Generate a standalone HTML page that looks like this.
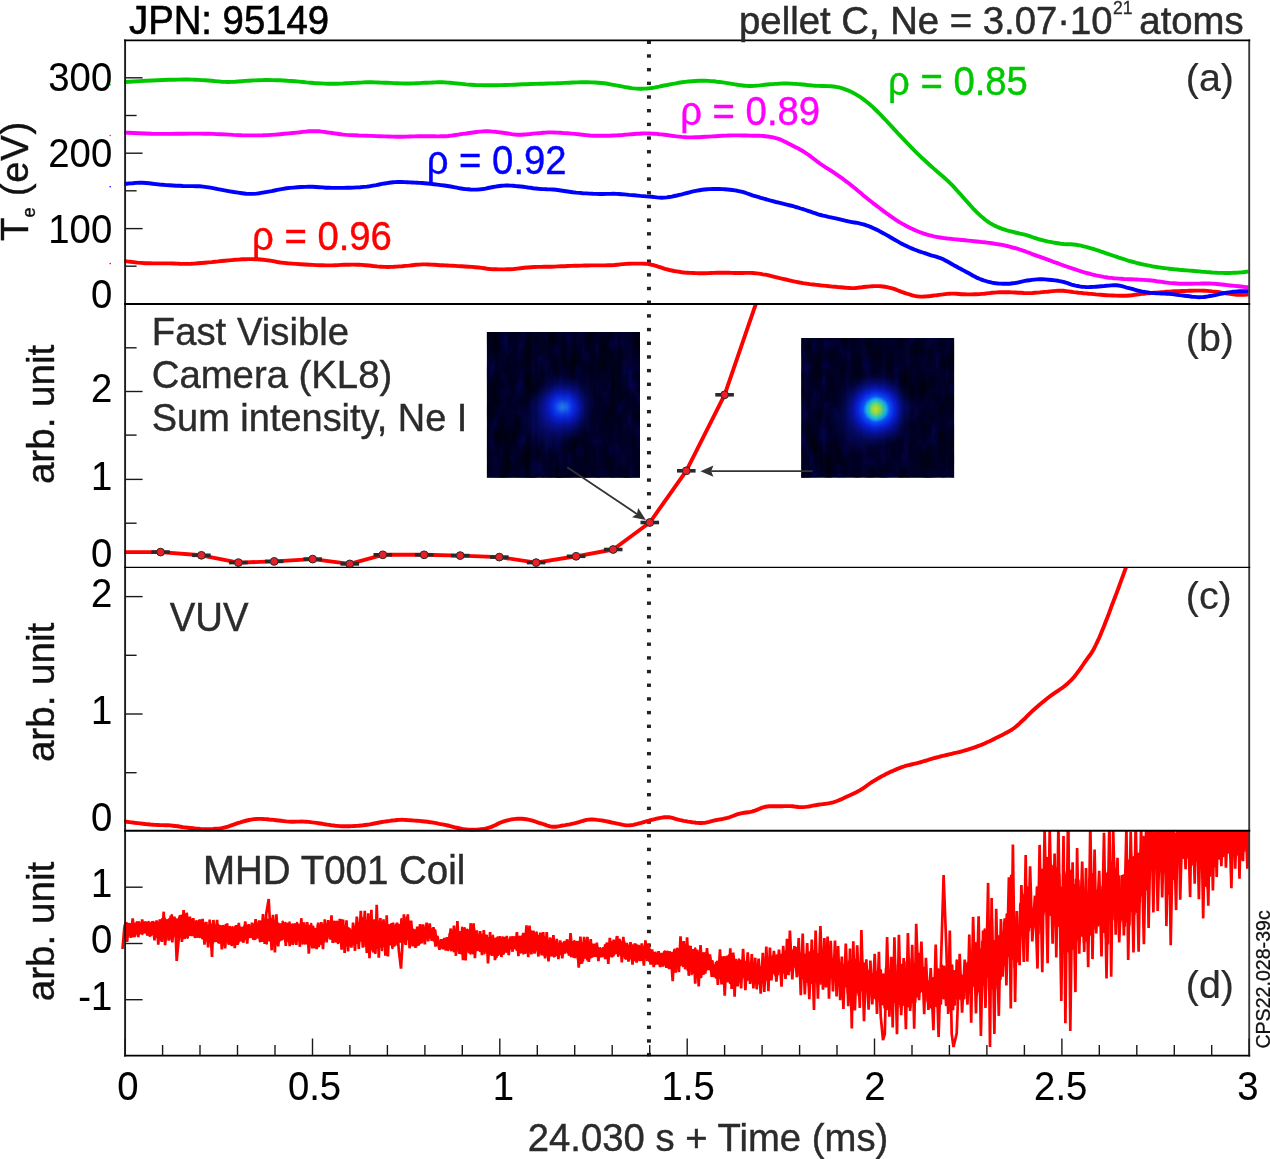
<!DOCTYPE html>
<html lang="en"><head><meta charset="utf-8"><title>JPN 95149 pellet C</title>
<style>html,body{margin:0;padding:0;background:#fff}svg{display:block}text{font-family:"Liberation Sans", sans-serif}</style>
</head><body>
<svg width="1270" height="1159" viewBox="0 0 1270 1159">
<defs>
<clipPath id="ca"><rect x="124.2" y="40.2" width="1127.2" height="264.3"/></clipPath>
<clipPath id="cb"><rect x="124.2" y="303.0" width="1126.2" height="265.4"/></clipPath>
<clipPath id="cc"><rect x="124.2" y="567.4" width="1126.2" height="264.4"/></clipPath>
<clipPath id="cd"><rect x="121" y="830.3" width="1128.7" height="224.9"/></clipPath>
<radialGradient id="g1" cx="562.8" cy="407.0" r="36" gradientUnits="userSpaceOnUse"><stop offset="0" stop-color="#2a8af6"/><stop offset="0.1" stop-color="#1c6cf4"/><stop offset="0.22" stop-color="#0e3cf0"/><stop offset="0.36" stop-color="#0a20d0"/><stop offset="0.55" stop-color="#08129a" stop-opacity="0.8"/><stop offset="0.78" stop-color="#050a60" stop-opacity="0.45"/><stop offset="1" stop-color="#03032e" stop-opacity="0"/></radialGradient>
<radialGradient id="g1b" cx="552" cy="420" r="36" gradientUnits="userSpaceOnUse"><stop offset="0" stop-color="#0a18b8" stop-opacity="0.85"/><stop offset="0.5" stop-color="#070e80" stop-opacity="0.5"/><stop offset="1" stop-color="#03032e" stop-opacity="0"/></radialGradient>
<radialGradient id="g2" cx="876.3" cy="409.3" r="40" gradientUnits="userSpaceOnUse"><stop offset="0" stop-color="#c4e628"/><stop offset="0.09" stop-color="#a2e240"/><stop offset="0.17" stop-color="#44dca0"/><stop offset="0.25" stop-color="#18b4f0"/><stop offset="0.33" stop-color="#0c54ff"/><stop offset="0.45" stop-color="#0a26e4"/><stop offset="0.6" stop-color="#0814a8" stop-opacity="0.8"/><stop offset="0.8" stop-color="#050a60" stop-opacity="0.45"/><stop offset="1" stop-color="#03032e" stop-opacity="0"/></radialGradient>
<radialGradient id="g2b" cx="866" cy="418" r="44" gradientUnits="userSpaceOnUse"><stop offset="0" stop-color="#0a1cc8" stop-opacity="0.85"/><stop offset="0.5" stop-color="#070e80" stop-opacity="0.5"/><stop offset="1" stop-color="#03032e" stop-opacity="0"/></radialGradient>
<filter id="nz" x="0" y="0" width="100%" height="100%" color-interpolation-filters="sRGB"><feTurbulence type="fractalNoise" baseFrequency="0.11 0.05" numOctaves="2" seed="4" result="t"/><feColorMatrix in="t" type="matrix" values="0 0 0 0 0.02  0 0 0 0 0.02  0 0 0 0 0.33  0 0 0 2.2 -1.0"/><feComposite in2="SourceGraphic" operator="in"/></filter>
<filter id="nzd" x="0" y="0" width="100%" height="100%" color-interpolation-filters="sRGB"><feTurbulence type="fractalNoise" baseFrequency="0.09 0.04" numOctaves="2" seed="11" result="t"/><feColorMatrix in="t" type="matrix" values="0 0 0 0 0  0 0 0 0 0  0 0 0 0 0.06  0 0 0 2.6 -1.0"/><feComposite in2="SourceGraphic" operator="in"/></filter>
</defs>
<rect width="1270" height="1159" fill="#fff"/>
<rect x="646.95" y="40.60" width="4" height="3.4" fill="#222"/>
<rect x="646.95" y="54.28" width="4" height="3.4" fill="#222"/>
<rect x="646.95" y="67.96" width="4" height="3.4" fill="#222"/>
<rect x="646.95" y="81.64" width="4" height="3.4" fill="#222"/>
<rect x="646.95" y="95.32" width="4" height="3.4" fill="#222"/>
<rect x="646.95" y="109.00" width="4" height="3.4" fill="#222"/>
<rect x="646.95" y="122.68" width="4" height="3.4" fill="#222"/>
<rect x="646.95" y="136.36" width="4" height="3.4" fill="#222"/>
<rect x="646.95" y="150.04" width="4" height="3.4" fill="#222"/>
<rect x="646.95" y="163.72" width="4" height="3.4" fill="#222"/>
<rect x="646.95" y="177.40" width="4" height="3.4" fill="#222"/>
<rect x="646.95" y="191.08" width="4" height="3.4" fill="#222"/>
<rect x="646.95" y="204.76" width="4" height="3.4" fill="#222"/>
<rect x="646.95" y="218.44" width="4" height="3.4" fill="#222"/>
<rect x="646.95" y="232.12" width="4" height="3.4" fill="#222"/>
<rect x="646.95" y="245.80" width="4" height="3.4" fill="#222"/>
<rect x="646.95" y="259.48" width="4" height="3.4" fill="#222"/>
<rect x="646.95" y="273.16" width="4" height="3.4" fill="#222"/>
<rect x="646.95" y="286.84" width="4" height="3.4" fill="#222"/>
<rect x="646.95" y="300.52" width="4" height="3.4" fill="#222"/>
<rect x="646.95" y="314.20" width="4" height="3.4" fill="#222"/>
<rect x="646.95" y="327.88" width="4" height="3.4" fill="#222"/>
<rect x="646.95" y="341.56" width="4" height="3.4" fill="#222"/>
<rect x="646.95" y="355.24" width="4" height="3.4" fill="#222"/>
<rect x="646.95" y="368.92" width="4" height="3.4" fill="#222"/>
<rect x="646.95" y="382.60" width="4" height="3.4" fill="#222"/>
<rect x="646.95" y="396.28" width="4" height="3.4" fill="#222"/>
<rect x="646.95" y="409.96" width="4" height="3.4" fill="#222"/>
<rect x="646.95" y="423.64" width="4" height="3.4" fill="#222"/>
<rect x="646.95" y="437.32" width="4" height="3.4" fill="#222"/>
<rect x="646.95" y="451.00" width="4" height="3.4" fill="#222"/>
<rect x="646.95" y="464.68" width="4" height="3.4" fill="#222"/>
<rect x="646.95" y="478.36" width="4" height="3.4" fill="#222"/>
<rect x="646.95" y="492.04" width="4" height="3.4" fill="#222"/>
<rect x="646.95" y="505.72" width="4" height="3.4" fill="#222"/>
<rect x="646.95" y="519.40" width="4" height="3.4" fill="#222"/>
<rect x="646.95" y="533.08" width="4" height="3.4" fill="#222"/>
<rect x="646.95" y="546.76" width="4" height="3.4" fill="#222"/>
<rect x="646.95" y="560.44" width="4" height="3.4" fill="#222"/>
<rect x="646.95" y="574.12" width="4" height="3.4" fill="#222"/>
<rect x="646.95" y="587.80" width="4" height="3.4" fill="#222"/>
<rect x="646.95" y="601.48" width="4" height="3.4" fill="#222"/>
<rect x="646.95" y="615.16" width="4" height="3.4" fill="#222"/>
<rect x="646.95" y="628.84" width="4" height="3.4" fill="#222"/>
<rect x="646.95" y="642.52" width="4" height="3.4" fill="#222"/>
<rect x="646.95" y="656.20" width="4" height="3.4" fill="#222"/>
<rect x="646.95" y="669.88" width="4" height="3.4" fill="#222"/>
<rect x="646.95" y="683.56" width="4" height="3.4" fill="#222"/>
<rect x="646.95" y="697.24" width="4" height="3.4" fill="#222"/>
<rect x="646.95" y="710.92" width="4" height="3.4" fill="#222"/>
<rect x="646.95" y="724.60" width="4" height="3.4" fill="#222"/>
<rect x="646.95" y="738.28" width="4" height="3.4" fill="#222"/>
<rect x="646.95" y="751.96" width="4" height="3.4" fill="#222"/>
<rect x="646.95" y="765.64" width="4" height="3.4" fill="#222"/>
<rect x="646.95" y="779.32" width="4" height="3.4" fill="#222"/>
<rect x="646.95" y="793.00" width="4" height="3.4" fill="#222"/>
<rect x="646.95" y="806.68" width="4" height="3.4" fill="#222"/>
<rect x="646.95" y="820.36" width="4" height="3.4" fill="#222"/>
<rect x="646.95" y="834.04" width="4" height="3.4" fill="#222"/>
<rect x="646.95" y="847.72" width="4" height="3.4" fill="#222"/>
<rect x="646.95" y="861.40" width="4" height="3.4" fill="#222"/>
<rect x="646.95" y="875.08" width="4" height="3.4" fill="#222"/>
<rect x="646.95" y="888.76" width="4" height="3.4" fill="#222"/>
<rect x="646.95" y="902.44" width="4" height="3.4" fill="#222"/>
<rect x="646.95" y="916.12" width="4" height="3.4" fill="#222"/>
<rect x="646.95" y="929.80" width="4" height="3.4" fill="#222"/>
<rect x="646.95" y="943.48" width="4" height="3.4" fill="#222"/>
<rect x="646.95" y="957.16" width="4" height="3.4" fill="#222"/>
<rect x="646.95" y="970.84" width="4" height="3.4" fill="#222"/>
<rect x="646.95" y="984.52" width="4" height="3.4" fill="#222"/>
<rect x="646.95" y="998.20" width="4" height="3.4" fill="#222"/>
<rect x="646.95" y="1011.88" width="4" height="3.4" fill="#222"/>
<rect x="646.95" y="1025.56" width="4" height="3.4" fill="#222"/>
<rect x="646.95" y="1039.24" width="4" height="3.4" fill="#222"/>
<rect x="646.95" y="1052.92" width="4" height="3.4" fill="#222"/>
<g clip-path="url(#ca)">
<polyline points="123.5,261.1 123.4,261.1 123.2,261.0 123.0,261.0 123.1,260.9 123.7,261.0 125.0,261.1 127.2,261.4 130.2,261.7 133.6,262.1 137.4,262.6 141.3,262.9 145.2,263.2 149.2,263.3 153.5,263.4 158.0,263.4 162.4,263.4 166.6,263.4 170.4,263.4 173.7,263.5 176.7,263.6 179.5,263.8 182.2,263.9 185.0,263.9 188.0,263.9 191.2,263.8 194.5,263.6 197.9,263.3 201.4,263.0 204.8,262.7 208.2,262.4 211.6,262.1 214.9,261.7 218.2,261.4 221.6,261.0 224.9,260.7 228.3,260.4 231.7,260.1 235.1,259.8 238.6,259.6 242.0,259.3 245.3,259.2 248.5,259.1 251.6,259.1 254.6,259.2 257.5,259.3 260.3,259.5 263.2,259.8 266.1,260.1 269.0,260.5 271.7,260.9 274.5,261.4 277.3,262.0 280.4,262.5 283.8,262.9 287.6,263.3 291.8,263.6 296.2,263.9 300.7,264.2 305.0,264.5 309.0,264.7 312.7,264.9 316.2,265.1 319.5,265.2 322.8,265.3 325.9,265.4 329.1,265.4 332.2,265.4 335.3,265.2 338.3,265.1 341.2,264.9 344.0,264.8 346.8,264.7 349.4,264.7 351.7,264.6 354.0,264.6 356.4,264.7 359.0,264.8 361.9,264.9 365.3,265.2 369.1,265.5 373.1,266.0 377.1,266.4 381.0,266.7 384.6,266.9 387.8,267.0 390.7,266.9 393.6,266.8 396.3,266.6 399.2,266.4 402.2,266.2 405.4,265.9 408.8,265.6 412.3,265.2 415.8,264.8 419.2,264.6 422.4,264.4 425.5,264.4 428.5,264.5 431.5,264.6 434.4,264.8 437.2,265.0 440.0,265.2 442.6,265.3 445.1,265.4 447.4,265.5 449.9,265.6 452.4,265.7 455.2,265.9 458.3,266.1 461.7,266.3 465.1,266.5 468.7,266.7 472.1,266.9 475.4,267.2 478.5,267.5 481.5,267.9 484.4,268.3 487.2,268.7 490.1,269.0 493.0,269.2 495.9,269.3 498.8,269.4 501.6,269.4 504.5,269.4 507.5,269.3 510.6,269.2 513.8,269.0 517.1,268.6 520.5,268.2 524.0,267.8 527.4,267.5 530.8,267.2 534.2,267.0 537.5,266.9 540.9,266.9 544.2,266.8 547.5,266.8 550.9,266.7 554.3,266.6 557.6,266.4 561.0,266.3 564.4,266.2 567.7,266.0 571.1,265.9 574.5,265.8 577.8,265.7 581.2,265.6 584.6,265.5 587.9,265.5 591.3,265.4 594.7,265.4 598.1,265.4 601.5,265.4 604.9,265.4 608.2,265.3 611.4,265.2 614.5,265.0 617.4,264.7 620.4,264.4 623.2,264.1 626.1,263.9 629.0,263.7 632.0,263.6 635.2,263.6 638.3,263.6 641.4,263.6 644.2,263.7 646.7,263.9 648.8,264.1 650.5,264.5 652.1,264.8 653.5,265.2 655.1,265.7 656.8,266.2 658.7,266.8 660.7,267.4 662.8,268.1 664.9,268.8 667.1,269.4 669.4,270.0 671.7,270.5 674.2,271.0 676.6,271.4 679.2,271.8 681.8,272.2 684.5,272.5 687.3,272.7 690.2,272.9 693.1,273.0 696.1,273.1 699.1,273.2 702.1,273.2 705.0,273.2 708.0,273.1 710.9,273.0 713.8,272.9 716.8,272.8 719.7,272.7 722.7,272.7 725.7,272.8 728.7,272.8 731.7,272.9 734.6,273.0 737.4,273.0 740.1,273.0 742.7,273.0 745.3,272.9 747.8,272.9 750.2,272.9 752.6,273.0 754.8,273.2 756.8,273.4 758.8,273.6 760.7,273.9 762.8,274.3 765.2,274.7 767.8,275.2 770.6,275.9 773.5,276.6 776.6,277.3 779.7,278.1 782.8,278.8 786.0,279.5 789.3,280.3 792.7,281.1 796.2,281.8 799.6,282.5 803.0,283.1 806.4,283.6 809.8,284.1 813.2,284.5 816.6,284.9 819.9,285.3 823.1,285.6 826.2,285.9 829.4,286.3 832.4,286.6 835.4,286.8 838.2,287.1 840.8,287.3 843.2,287.5 845.4,287.7 847.4,287.9 849.4,288.0 851.4,288.1 853.4,288.1 855.5,288.0 857.6,287.8 859.7,287.5 861.8,287.3 863.9,287.0 866.0,286.8 868.1,286.6 870.2,286.4 872.3,286.2 874.4,286.1 876.5,286.1 878.6,286.1 880.7,286.2 882.8,286.5 884.9,286.8 887.0,287.1 889.1,287.6 891.2,288.1 893.3,288.7 895.4,289.4 897.5,290.3 899.6,291.1 901.7,291.9 903.8,292.6 905.9,293.3 908.1,294.0 910.3,294.7 912.4,295.3 914.5,295.8 916.4,296.2 918.2,296.4 919.8,296.6 921.4,296.6 923.0,296.6 924.6,296.5 926.4,296.4 928.3,296.2 930.4,296.0 932.5,295.7 934.7,295.4 936.9,295.2 939.0,294.9 941.1,294.6 943.1,294.4 945.1,294.1 947.2,293.9 949.3,293.7 951.6,293.6 954.0,293.6 956.5,293.8 959.0,294.0 961.6,294.2 964.2,294.3 966.8,294.4 969.3,294.4 971.8,294.4 974.4,294.3 976.9,294.2 979.4,294.1 981.9,293.9 984.4,293.7 986.9,293.4 989.5,293.1 992.0,292.8 994.5,292.6 997.0,292.4 999.5,292.3 1001.9,292.3 1004.4,292.3 1006.9,292.3 1009.4,292.3 1012.1,292.4 1014.9,292.5 1017.9,292.7 1020.9,292.8 1023.9,293.0 1026.9,293.1 1029.7,293.1 1032.4,293.0 1034.9,292.8 1037.4,292.6 1039.9,292.4 1042.3,292.1 1044.9,291.9 1047.5,291.7 1050.2,291.4 1052.9,291.1 1055.6,290.9 1058.3,290.7 1060.9,290.7 1063.5,290.8 1066.0,291.1 1068.5,291.4 1071.0,291.7 1073.5,292.1 1076.0,292.4 1078.5,292.7 1081.0,292.9 1083.5,293.2 1086.1,293.4 1088.6,293.7 1091.1,293.9 1093.6,294.1 1095.9,294.4 1098.3,294.6 1100.8,294.8 1103.4,295.0 1106.2,295.2 1109.3,295.4 1112.7,295.5 1116.3,295.6 1119.9,295.7 1123.3,295.8 1126.4,295.7 1129.2,295.5 1131.8,295.3 1134.3,294.9 1136.7,294.5 1139.0,294.2 1141.5,293.9 1144.0,293.7 1146.5,293.4 1149.0,293.2 1151.6,293.0 1154.1,292.8 1156.6,292.6 1159.1,292.4 1161.6,292.2 1164.1,292.0 1166.7,291.7 1169.2,291.6 1171.7,291.4 1174.2,291.3 1176.7,291.2 1179.2,291.1 1181.8,291.0 1184.3,291.0 1186.8,290.9 1189.3,290.8 1191.8,290.7 1194.3,290.6 1196.9,290.6 1199.4,290.6 1201.9,290.6 1204.5,290.7 1207.1,290.9 1209.7,291.1 1212.2,291.4 1214.7,291.6 1217.1,291.9 1219.4,292.2 1221.6,292.6 1223.7,292.9 1225.8,293.3 1227.8,293.6 1229.7,293.9 1231.5,294.1 1233.3,294.4 1234.9,294.6 1236.5,294.7 1238.1,294.8 1239.7,294.9 1241.4,294.9 1243.1,294.8 1244.8,294.7 1246.3,294.6 1247.6,294.5 1248.6,294.4" fill="none" stroke="#ff0000" stroke-width="3.9" stroke-linejoin="round" stroke-linecap="butt" />
<polyline points="123.5,183.8 123.5,183.8 123.3,183.8 123.1,183.9 123.2,183.9 123.8,183.9 125.0,183.8 127.0,183.7 129.6,183.4 132.7,183.2 136.0,182.9 139.4,182.8 142.7,182.8 145.9,183.0 149.2,183.3 152.6,183.7 156.0,184.1 159.4,184.5 162.8,184.8 166.2,185.1 169.5,185.3 172.9,185.5 176.3,185.7 179.6,185.8 183.0,186.0 186.3,186.1 189.6,186.1 192.9,186.1 196.2,186.2 199.6,186.3 203.1,186.6 206.7,187.1 210.4,187.7 214.2,188.4 218.0,189.2 221.9,189.9 225.8,190.6 229.8,191.3 233.9,192.0 238.0,192.6 242.1,193.2 246.1,193.7 249.8,193.9 253.3,193.9 256.5,193.6 259.6,193.2 262.7,192.6 265.7,192.1 268.7,191.6 271.6,191.1 274.5,190.5 277.3,189.9 280.1,189.3 283.1,188.8 286.3,188.3 289.8,187.9 293.6,187.6 297.5,187.3 301.4,187.0 305.3,186.9 309.0,186.8 312.5,186.8 316.0,187.0 319.4,187.2 322.7,187.4 325.9,187.7 329.1,187.8 332.2,187.9 335.1,187.9 338.0,187.9 340.8,187.9 343.7,187.9 346.8,187.8 350.0,187.7 353.4,187.6 356.9,187.4 360.3,187.2 363.7,186.9 366.9,186.6 370.0,186.2 373.2,185.6 376.2,185.1 379.2,184.5 382.0,183.9 384.6,183.5 387.0,183.1 389.1,182.8 391.1,182.5 393.0,182.3 395.0,182.1 397.2,182.0 399.6,182.0 402.0,182.0 404.6,182.1 407.2,182.2 409.8,182.4 412.3,182.5 414.8,182.6 417.1,182.7 419.5,182.9 422.0,183.0 424.6,183.2 427.4,183.5 430.5,183.8 433.8,184.2 437.3,184.6 440.9,185.1 444.3,185.5 447.6,186.0 450.7,186.5 453.8,187.1 456.8,187.7 459.7,188.3 462.5,188.7 465.3,189.1 468.0,189.3 470.5,189.5 473.0,189.6 475.5,189.6 477.9,189.5 480.4,189.3 482.9,189.0 485.5,188.6 488.1,188.0 490.7,187.5 493.1,187.0 495.5,186.6 497.7,186.3 499.8,186.0 501.8,185.8 503.8,185.6 505.9,185.5 508.1,185.5 510.5,185.6 512.9,185.7 515.5,186.0 518.1,186.2 520.7,186.5 523.2,186.8 525.7,187.1 528.1,187.5 530.6,187.8 533.1,188.2 535.6,188.5 538.3,188.8 541.1,189.0 543.9,189.1 546.8,189.3 549.8,189.4 552.9,189.5 556.0,189.8 559.2,190.2 562.5,190.7 565.9,191.2 569.3,191.7 572.7,192.2 576.1,192.6 579.5,192.9 582.8,193.2 586.2,193.4 589.6,193.6 592.9,193.8 596.3,193.9 599.7,194.0 603.2,194.0 606.7,193.9 610.1,193.9 613.3,193.8 616.4,193.9 619.2,194.0 621.7,194.2 624.2,194.4 626.5,194.6 629.0,194.9 631.6,195.1 634.4,195.3 637.4,195.6 640.4,195.9 643.4,196.1 646.4,196.4 649.2,196.6 651.9,196.8 654.4,197.1 656.9,197.4 659.4,197.6 661.8,197.7 664.3,197.6 666.8,197.4 669.3,197.0 671.8,196.6 674.4,196.0 676.9,195.5 679.4,194.9 681.9,194.3 684.4,193.6 686.9,193.0 689.5,192.3 692.0,191.6 694.5,191.1 697.0,190.6 699.6,190.2 702.1,189.8 704.6,189.5 707.2,189.3 709.7,189.1 712.2,189.0 714.7,188.9 717.3,189.0 719.8,189.0 722.3,189.1 724.8,189.3 727.3,189.5 729.8,189.7 732.3,190.0 734.9,190.4 737.4,190.8 739.9,191.3 742.4,191.9 744.9,192.7 747.3,193.5 749.8,194.4 752.4,195.3 755.1,196.1 757.9,196.9 760.8,197.8 763.8,198.7 766.8,199.5 769.8,200.4 772.8,201.2 775.8,202.0 778.8,202.7 781.8,203.4 784.7,204.1 787.6,204.8 790.4,205.5 793.1,206.2 795.6,207.0 798.1,207.7 800.6,208.5 803.0,209.2 805.5,210.0 808.0,210.8 810.5,211.7 813.0,212.6 815.6,213.4 818.1,214.3 820.6,215.0 823.1,215.7 825.7,216.2 828.3,216.8 830.9,217.3 833.3,217.8 835.7,218.3 837.9,218.8 840.0,219.3 842.0,219.8 844.0,220.3 846.1,220.8 848.3,221.3 850.7,221.8 853.3,222.3 855.9,222.7 858.5,223.2 861.1,223.8 863.5,224.4 865.7,225.1 867.8,225.8 869.8,226.6 871.8,227.4 873.9,228.4 876.1,229.4 878.5,230.6 881.0,232.0 883.7,233.4 886.3,234.9 888.8,236.3 891.2,237.7 893.4,239.0 895.6,240.2 897.7,241.4 899.7,242.6 901.7,243.7 903.8,244.8 905.9,245.8 908.0,246.8 910.1,247.7 912.2,248.6 914.3,249.5 916.4,250.3 918.5,251.1 920.6,251.8 922.7,252.5 924.8,253.2 926.9,253.9 929.0,254.6 931.1,255.3 933.2,255.9 935.3,256.4 937.4,257.1 939.5,257.8 941.6,258.6 943.7,259.6 945.8,260.7 947.9,261.8 950.0,263.0 952.1,264.2 954.2,265.4 956.3,266.5 958.4,267.7 960.5,268.8 962.6,269.9 964.7,271.1 966.8,272.2 968.9,273.3 971.0,274.5 973.1,275.7 975.2,276.8 977.3,277.9 979.4,278.8 981.5,279.6 983.6,280.4 985.7,281.0 987.8,281.6 989.9,282.1 992.0,282.6 994.1,283.0 996.3,283.3 998.5,283.5 1000.6,283.6 1002.7,283.7 1004.6,283.8 1006.4,283.8 1008.0,283.8 1009.6,283.7 1011.2,283.5 1012.8,283.3 1014.6,283.1 1016.5,282.8 1018.5,282.3 1020.6,281.8 1022.7,281.3 1024.9,280.9 1027.2,280.5 1029.5,280.2 1031.9,279.9 1034.4,279.6 1036.9,279.4 1039.6,279.3 1042.3,279.3 1045.3,279.4 1048.5,279.7 1051.8,280.0 1055.0,280.4 1058.1,280.8 1060.9,281.3 1063.3,281.9 1065.5,282.5 1067.6,283.2 1069.5,283.9 1071.5,284.6 1073.5,285.1 1075.6,285.6 1077.6,286.0 1079.6,286.4 1081.7,286.7 1083.9,286.9 1086.1,287.1 1088.5,287.1 1090.9,287.0 1093.5,286.9 1096.1,286.7 1098.7,286.5 1101.2,286.3 1103.7,286.1 1106.3,285.8 1108.9,285.6 1111.5,285.4 1113.9,285.2 1116.3,285.3 1118.5,285.5 1120.7,285.9 1122.8,286.4 1124.8,287.0 1126.8,287.6 1128.9,288.1 1131.0,288.6 1133.1,289.2 1135.2,289.8 1137.3,290.4 1139.4,290.9 1141.5,291.4 1143.6,291.8 1145.6,292.1 1147.6,292.4 1149.7,292.7 1151.9,292.9 1154.1,293.1 1156.5,293.3 1158.9,293.4 1161.5,293.5 1164.1,293.6 1166.7,293.7 1169.2,293.9 1171.7,294.1 1174.2,294.4 1176.8,294.8 1179.3,295.1 1181.8,295.4 1184.3,295.7 1186.8,296.0 1189.4,296.3 1192.0,296.7 1194.6,296.9 1197.0,297.1 1199.4,297.2 1201.6,297.1 1203.8,297.0 1205.9,296.7 1207.9,296.4 1209.9,296.0 1212.0,295.7 1214.1,295.3 1216.2,294.9 1218.3,294.4 1220.4,293.9 1222.5,293.5 1224.6,293.1 1226.7,292.7 1228.8,292.4 1231.0,292.1 1233.1,291.8 1235.2,291.6 1237.2,291.4 1239.3,291.3 1241.5,291.2 1243.7,291.1 1245.7,291.1 1247.4,291.1 1248.6,291.1" fill="none" stroke="#0000ff" stroke-width="3.9" stroke-linejoin="round" stroke-linecap="butt" />
<polyline points="123.5,132.6 123.3,132.6 122.7,132.6 122.2,132.5 122.1,132.5 122.9,132.5 125.0,132.6 128.6,132.8 133.4,133.0 139.1,133.3 145.3,133.5 151.7,133.8 157.8,133.9 164.0,133.9 170.5,133.9 177.2,133.8 183.7,133.7 190.0,133.6 195.6,133.6 200.5,133.6 204.9,133.7 209.0,133.8 212.9,133.9 216.7,134.1 220.8,134.2 225.0,134.4 229.2,134.6 233.4,134.9 237.6,135.1 241.8,135.3 246.0,135.4 250.2,135.4 254.4,135.4 258.6,135.4 262.8,135.3 267.0,135.1 271.2,134.9 275.5,134.6 279.9,134.2 284.3,133.8 288.6,133.4 292.6,133.0 296.4,132.6 299.8,132.3 302.9,131.9 305.8,131.6 308.6,131.3 311.3,131.2 314.0,131.1 316.6,131.2 319.1,131.3 321.5,131.6 324.0,131.9 326.5,132.3 329.1,132.6 331.8,133.0 334.5,133.4 337.3,133.8 340.2,134.2 343.4,134.6 346.8,134.9 350.6,135.1 354.6,135.3 358.9,135.5 363.3,135.6 367.7,135.8 372.0,135.9 376.2,136.1 380.4,136.2 384.6,136.4 388.8,136.5 393.0,136.6 397.2,136.7 401.4,136.7 405.7,136.6 410.0,136.5 414.2,136.4 418.3,136.3 422.4,136.2 426.4,136.2 430.3,136.2 434.2,136.3 438.0,136.4 441.6,136.3 445.1,136.2 448.3,136.0 451.3,135.6 454.1,135.2 456.9,134.8 459.8,134.3 462.8,133.9 466.1,133.5 469.5,133.0 473.0,132.5 476.5,132.0 479.8,131.6 482.9,131.4 485.6,131.3 488.1,131.3 490.4,131.4 492.8,131.6 495.2,131.8 498.0,132.1 501.1,132.5 504.5,133.0 507.9,133.5 511.5,134.1 514.9,134.5 518.2,134.7 521.3,134.7 524.4,134.5 527.3,134.3 530.2,134.0 533.0,133.6 535.8,133.4 538.4,133.2 540.8,133.0 543.2,132.7 545.6,132.6 548.1,132.4 550.9,132.4 553.9,132.5 557.2,132.6 560.5,132.8 564.0,133.1 567.5,133.3 571.1,133.6 574.7,133.9 578.5,134.3 582.3,134.7 586.1,135.1 590.0,135.5 593.8,135.7 597.7,135.8 601.6,135.8 605.6,135.8 609.4,135.7 613.1,135.5 616.4,135.4 619.4,135.2 622.0,135.1 624.5,134.8 626.8,134.6 629.2,134.4 631.6,134.2 634.1,134.0 636.6,133.8 639.2,133.7 641.7,133.5 644.2,133.4 646.7,133.4 649.2,133.5 651.7,133.6 654.2,133.7 656.8,133.9 659.3,134.2 661.8,134.4 664.3,134.7 666.8,135.0 669.3,135.4 671.9,135.8 674.4,136.1 676.9,136.4 679.4,136.6 681.7,136.9 684.1,137.1 686.6,137.3 689.2,137.4 692.0,137.4 695.1,137.3 698.4,137.2 701.8,137.0 705.3,136.8 708.8,136.6 712.2,136.4 715.6,136.2 718.9,136.0 722.2,135.8 725.6,135.6 728.9,135.5 732.3,135.4 735.8,135.4 739.3,135.4 742.9,135.5 746.4,135.5 749.7,135.6 752.6,135.7 755.1,135.7 757.4,135.8 759.4,135.8 761.3,135.9 763.2,136.0 765.2,136.2 767.3,136.5 769.4,136.8 771.5,137.1 773.6,137.5 775.7,138.1 777.8,138.7 779.9,139.4 781.9,140.3 783.9,141.2 786.0,142.3 788.2,143.4 790.4,144.5 792.8,145.7 795.2,147.0 797.8,148.3 800.4,149.7 803.0,151.2 805.5,152.8 808.0,154.5 810.5,156.4 813.0,158.3 815.6,160.3 818.1,162.2 820.6,164.0 823.1,165.7 825.6,167.3 828.1,168.9 830.7,170.5 833.2,172.1 835.7,173.8 838.2,175.6 840.8,177.4 843.3,179.2 845.8,181.1 848.4,183.0 850.9,185.0 853.4,187.0 855.9,189.1 858.5,191.2 861.0,193.3 863.5,195.4 866.0,197.4 868.5,199.4 871.0,201.4 873.5,203.4 876.1,205.4 878.6,207.3 881.1,209.2 883.6,211.1 886.1,213.0 888.7,214.9 891.2,216.7 893.7,218.4 896.2,220.1 898.7,221.7 901.2,223.1 903.8,224.6 906.3,225.9 908.8,227.2 911.3,228.4 913.8,229.6 916.3,230.7 918.8,231.7 921.4,232.7 923.9,233.6 926.4,234.4 928.9,235.1 931.4,235.7 933.8,236.3 936.4,236.8 938.9,237.3 941.6,237.7 944.4,238.1 947.3,238.5 950.3,238.8 953.2,239.1 956.2,239.4 959.2,239.7 962.2,240.0 965.2,240.3 968.1,240.6 971.1,240.9 974.0,241.2 976.8,241.5 979.5,241.8 982.0,242.1 984.6,242.3 987.0,242.6 989.5,242.9 992.0,243.3 994.5,243.7 997.0,244.1 999.6,244.5 1002.1,244.9 1004.6,245.4 1007.1,246.0 1009.6,246.6 1012.1,247.3 1014.7,248.0 1017.2,248.7 1019.7,249.5 1022.2,250.3 1024.6,251.1 1026.9,252.0 1029.2,252.8 1031.6,253.8 1034.3,254.8 1037.3,255.9 1040.8,257.2 1044.9,258.7 1049.1,260.2 1053.3,261.8 1057.4,263.2 1060.9,264.5 1063.9,265.6 1066.6,266.5 1069.0,267.4 1071.3,268.1 1073.6,268.9 1076.0,269.7 1078.5,270.5 1081.0,271.3 1083.5,272.1 1086.1,272.8 1088.6,273.5 1091.1,274.2 1093.6,274.8 1096.1,275.4 1098.6,275.9 1101.2,276.4 1103.7,276.9 1106.2,277.3 1108.7,277.7 1111.2,277.9 1113.8,278.2 1116.3,278.4 1118.8,278.6 1121.3,278.8 1123.8,279.0 1126.3,279.1 1128.8,279.2 1131.4,279.3 1133.9,279.4 1136.4,279.5 1138.9,279.6 1141.5,279.8 1144.0,279.9 1146.5,280.1 1149.1,280.3 1151.6,280.5 1154.1,280.8 1156.6,281.2 1159.2,281.5 1161.7,281.9 1164.2,282.3 1166.7,282.6 1169.2,282.9 1171.7,283.1 1174.2,283.3 1176.8,283.5 1179.3,283.7 1181.8,283.8 1184.3,283.8 1186.8,283.8 1189.3,283.8 1191.9,283.7 1194.4,283.6 1196.9,283.6 1199.4,283.6 1201.9,283.5 1204.5,283.5 1207.0,283.5 1209.5,283.5 1212.0,283.6 1214.4,283.8 1216.8,284.0 1219.2,284.2 1221.6,284.5 1224.2,284.8 1227.1,285.1 1230.6,285.5 1234.6,285.9 1238.8,286.3 1242.8,286.7 1246.2,287.1 1248.6,287.3" fill="none" stroke="#ff00ff" stroke-width="3.9" stroke-linejoin="round" stroke-linecap="butt" />
<polyline points="123.5,82.0 123.3,82.0 122.7,82.1 122.2,82.1 122.1,82.1 122.9,82.1 125.0,82.0 128.7,81.8 133.7,81.5 139.6,81.1 145.9,80.8 152.1,80.5 157.8,80.2 163.1,80.0 168.4,79.8 173.7,79.7 178.8,79.6 183.6,79.5 188.0,79.5 191.9,79.6 195.5,79.7 198.7,79.9 201.8,80.1 205.0,80.3 208.2,80.5 211.6,80.8 214.9,81.1 218.2,81.4 221.6,81.7 224.9,81.9 228.3,82.0 231.7,81.9 235.0,81.8 238.4,81.5 241.8,81.2 245.1,80.9 248.5,80.7 251.8,80.5 255.1,80.4 258.5,80.2 261.8,80.1 265.2,80.0 268.7,80.0 272.3,80.1 276.1,80.2 279.8,80.3 283.7,80.5 287.5,80.8 291.3,81.0 295.1,81.3 299.0,81.6 302.8,82.0 306.6,82.4 310.4,82.7 314.0,83.0 317.5,83.2 321.0,83.4 324.4,83.6 327.8,83.7 331.0,83.8 334.2,83.8 337.3,83.8 340.3,83.6 343.2,83.5 346.0,83.3 348.9,83.1 351.8,83.0 354.7,82.9 357.7,82.7 360.6,82.6 363.5,82.4 366.5,82.3 369.4,82.3 372.3,82.3 375.2,82.4 378.1,82.5 381.0,82.6 384.0,82.7 387.1,82.8 390.3,82.9 393.7,83.1 397.1,83.2 400.6,83.4 404.0,83.5 407.2,83.5 410.3,83.5 413.4,83.4 416.4,83.2 419.3,83.1 422.1,82.9 424.9,82.8 427.6,82.7 430.3,82.6 432.9,82.5 435.4,82.4 437.8,82.3 440.0,82.3 441.8,82.3 443.2,82.3 444.5,82.4 445.9,82.5 447.7,82.6 450.2,82.8 453.5,83.1 457.3,83.5 461.5,83.9 466.1,84.4 470.7,84.7 475.4,85.0 480.2,85.1 485.3,85.2 490.5,85.2 495.7,85.2 500.8,85.1 505.6,85.0 510.1,84.9 514.4,84.7 518.5,84.5 522.6,84.3 526.7,84.2 530.8,84.0 535.0,83.9 539.2,83.8 543.4,83.7 547.6,83.5 551.8,83.4 556.0,83.3 560.3,83.1 564.6,82.9 568.9,82.7 573.2,82.5 577.3,82.4 581.2,82.3 584.9,82.3 588.4,82.3 591.7,82.4 595.0,82.5 598.1,82.7 601.3,83.0 604.4,83.3 607.5,83.8 610.5,84.3 613.4,84.8 616.2,85.3 619.0,85.8 621.7,86.3 624.2,86.8 626.7,87.3 629.2,87.7 631.6,88.1 634.1,88.4 636.6,88.6 639.1,88.7 641.7,88.7 644.2,88.6 646.7,88.5 649.2,88.3 651.7,88.0 654.1,87.6 656.6,87.1 659.1,86.6 661.6,86.0 664.3,85.5 667.1,85.0 669.9,84.4 672.8,83.8 675.8,83.3 678.9,82.7 682.0,82.3 685.2,81.9 688.6,81.5 692.1,81.2 695.5,81.0 698.9,80.8 702.1,80.7 705.2,80.7 708.1,80.9 711.1,81.1 713.9,81.3 716.8,81.7 719.7,82.0 722.7,82.4 725.9,82.9 729.1,83.4 732.1,83.9 734.9,84.4 737.4,84.8 739.5,85.1 741.3,85.3 742.8,85.5 744.2,85.7 745.6,85.8 747.0,85.9 748.4,86.0 749.6,86.0 750.7,86.0 751.9,86.0 753.4,85.9 755.1,85.8 757.2,85.6 759.6,85.4 762.2,85.1 764.9,84.8 767.6,84.5 770.2,84.3 772.7,84.1 775.3,83.9 777.8,83.8 780.3,83.6 782.9,83.5 785.4,83.5 787.9,83.5 790.4,83.6 793.0,83.8 795.5,83.9 798.0,84.1 800.5,84.3 803.0,84.5 805.4,84.8 807.9,85.1 810.4,85.3 812.9,85.6 815.6,85.8 818.4,85.9 821.5,86.0 824.6,86.0 827.6,86.1 830.5,86.3 833.2,86.5 835.6,86.8 837.8,87.2 839.8,87.7 841.8,88.2 843.8,88.9 845.8,89.6 847.9,90.4 850.0,91.3 852.1,92.3 854.2,93.4 856.3,94.6 858.4,95.9 860.5,97.2 862.5,98.6 864.5,100.1 866.6,101.7 868.8,103.5 871.0,105.4 873.4,107.6 875.8,110.0 878.4,112.5 881.0,115.2 883.5,117.8 886.1,120.5 888.6,123.2 891.1,125.9 893.6,128.6 896.2,131.4 898.7,134.2 901.3,136.9 903.9,139.6 906.5,142.4 909.2,145.2 911.8,147.9 914.5,150.6 917.2,153.3 919.9,155.9 922.6,158.5 925.4,161.0 928.1,163.5 930.8,166.0 933.5,168.4 936.2,170.8 938.8,173.0 941.5,175.3 944.1,177.5 946.7,179.9 949.3,182.3 951.9,184.9 954.5,187.7 957.0,190.5 959.6,193.3 962.0,196.1 964.4,198.7 966.6,201.2 968.8,203.6 970.9,206.0 972.9,208.3 975.0,210.4 977.0,212.5 979.1,214.4 981.1,216.3 983.2,218.0 985.2,219.7 987.2,221.2 989.2,222.6 991.2,223.8 993.2,224.9 995.1,225.9 997.1,226.8 999.0,227.6 1001.0,228.4 1003.0,229.1 1004.9,229.7 1006.9,230.3 1008.8,230.8 1010.9,231.3 1013.0,231.9 1015.2,232.5 1017.5,233.0 1019.9,233.6 1022.3,234.1 1024.8,234.7 1027.2,235.4 1029.6,236.1 1032.0,237.0 1034.5,237.8 1037.0,238.6 1039.6,239.5 1042.3,240.2 1045.2,240.9 1048.4,241.6 1051.6,242.2 1054.8,242.8 1058.0,243.3 1060.9,243.7 1063.6,244.0 1066.2,244.2 1068.7,244.2 1071.1,244.3 1073.5,244.5 1076.0,244.8 1078.5,245.2 1081.0,245.7 1083.5,246.3 1086.1,246.9 1088.6,247.6 1091.1,248.3 1093.6,249.0 1096.1,249.9 1098.6,250.7 1101.2,251.6 1103.7,252.4 1106.2,253.3 1108.7,254.2 1111.2,255.0 1113.8,255.9 1116.3,256.7 1118.8,257.6 1121.3,258.4 1123.8,259.2 1126.3,260.0 1128.8,260.8 1131.4,261.5 1133.9,262.2 1136.4,262.9 1138.9,263.5 1141.5,264.1 1144.0,264.7 1146.5,265.2 1149.1,265.7 1151.6,266.2 1154.1,266.6 1156.6,267.0 1159.2,267.4 1161.7,267.8 1164.2,268.1 1166.7,268.4 1169.2,268.7 1171.7,269.0 1174.2,269.3 1176.8,269.5 1179.3,269.8 1181.8,270.0 1184.3,270.2 1186.8,270.4 1189.3,270.6 1191.9,270.8 1194.4,271.0 1196.9,271.2 1199.4,271.4 1201.9,271.7 1204.5,271.9 1207.0,272.1 1209.5,272.3 1212.0,272.5 1214.5,272.6 1217.1,272.8 1219.7,272.9 1222.3,272.9 1224.7,273.0 1227.1,273.0 1229.4,273.0 1231.6,272.9 1233.8,272.8 1235.9,272.7 1237.8,272.6 1239.7,272.5 1241.5,272.4 1243.3,272.2 1244.9,272.0 1246.4,271.8 1247.7,271.6 1248.6,271.5" fill="none" stroke="#00c800" stroke-width="3.9" stroke-linejoin="round" stroke-linecap="butt" />
</g>
<circle cx="110.2" cy="84.7" r="0.8" fill="#00c800"/>
<circle cx="110.2" cy="135.5" r="0.8" fill="#ff00ff"/>
<circle cx="110.2" cy="186.7" r="0.8" fill="#0000ff"/>
<circle cx="110.2" cy="263.6" r="0.8" fill="#ff0000"/>
<rect x="486.9" y="332" width="153.1" height="145.8" fill="#020227"/>
<rect x="486.9" y="332" width="153.1" height="145.8" fill="#fff" filter="url(#nz)"/><rect x="486.9" y="332" width="153.1" height="145.8" fill="#fff" filter="url(#nzd)"/>
<g clip-path="none"><rect x="486.9" y="332" width="153.1" height="145.8" fill="url(#g1b)"/><rect x="486.9" y="332" width="153.1" height="145.8" fill="url(#g1)"/></g>
<rect x="801.2" y="338" width="152.9" height="139.7" fill="#020227"/>
<rect x="801.2" y="338" width="152.9" height="139.7" fill="#fff" filter="url(#nz)"/><rect x="801.2" y="338" width="152.9" height="139.7" fill="#fff" filter="url(#nzd)"/>
<rect x="801.2" y="338" width="152.9" height="139.7" fill="url(#g2b)"/><rect x="801.2" y="338" width="152.9" height="139.7" fill="url(#g2)"/>
<rect x="486.9" y="332.0" width="3.6" height="145.8" fill="#000010" opacity="0.02"/>
<rect x="490.5" y="332.0" width="2.4" height="145.8" fill="#0a0a70" opacity="0.05"/>
<rect x="492.9" y="332.0" width="4.9" height="145.8" fill="#000010" opacity="0.09"/>
<rect x="497.8" y="332.0" width="2.2" height="145.8" fill="#000010" opacity="0.04"/>
<rect x="500.0" y="332.0" width="3.2" height="145.8" fill="#000010" opacity="0.06"/>
<rect x="503.2" y="332.0" width="6.1" height="145.8" fill="#000010" opacity="0.01"/>
<rect x="509.3" y="332.0" width="5.2" height="145.8" fill="#000010" opacity="0.06"/>
<rect x="514.5" y="332.0" width="4.9" height="145.8" fill="#000010" opacity="0.04"/>
<rect x="519.4" y="332.0" width="2.2" height="145.8" fill="#0a0a70" opacity="0.09"/>
<rect x="521.6" y="332.0" width="4.1" height="145.8" fill="#0a0a70" opacity="0.05"/>
<rect x="525.7" y="332.0" width="4.8" height="145.8" fill="#000010" opacity="0.07"/>
<rect x="530.5" y="332.0" width="4.9" height="145.8" fill="#0a0a70" opacity="0.06"/>
<rect x="535.4" y="332.0" width="2.5" height="145.8" fill="#000010" opacity="0.07"/>
<rect x="537.9" y="332.0" width="5.1" height="145.8" fill="#0a0a70" opacity="0.05"/>
<rect x="543.0" y="332.0" width="5.9" height="145.8" fill="#0a0a70" opacity="0.05"/>
<rect x="548.9" y="332.0" width="3.8" height="145.8" fill="#000010" opacity="0.02"/>
<rect x="552.7" y="332.0" width="5.5" height="145.8" fill="#0a0a70" opacity="0.02"/>
<rect x="558.2" y="332.0" width="4.6" height="145.8" fill="#0a0a70" opacity="0.09"/>
<rect x="562.8" y="332.0" width="3.4" height="145.8" fill="#000010" opacity="0.10"/>
<rect x="566.2" y="332.0" width="4.6" height="145.8" fill="#0a0a70" opacity="0.02"/>
<rect x="570.8" y="332.0" width="2.8" height="145.8" fill="#000010" opacity="0.05"/>
<rect x="573.6" y="332.0" width="6.8" height="145.8" fill="#0a0a70" opacity="0.01"/>
<rect x="580.4" y="332.0" width="3.7" height="145.8" fill="#0a0a70" opacity="0.04"/>
<rect x="584.1" y="332.0" width="4.9" height="145.8" fill="#000010" opacity="0.05"/>
<rect x="589.0" y="332.0" width="6.7" height="145.8" fill="#000010" opacity="0.05"/>
<rect x="595.7" y="332.0" width="2.3" height="145.8" fill="#0a0a70" opacity="0.07"/>
<rect x="598.0" y="332.0" width="3.4" height="145.8" fill="#0a0a70" opacity="0.04"/>
<rect x="601.4" y="332.0" width="2.1" height="145.8" fill="#000010" opacity="0.05"/>
<rect x="603.5" y="332.0" width="5.1" height="145.8" fill="#000010" opacity="0.05"/>
<rect x="608.6" y="332.0" width="5.8" height="145.8" fill="#000010" opacity="0.01"/>
<rect x="614.4" y="332.0" width="4.0" height="145.8" fill="#0a0a70" opacity="0.09"/>
<rect x="618.4" y="332.0" width="2.4" height="145.8" fill="#0a0a70" opacity="0.04"/>
<rect x="620.8" y="332.0" width="6.4" height="145.8" fill="#0a0a70" opacity="0.08"/>
<rect x="627.2" y="332.0" width="5.5" height="145.8" fill="#0a0a70" opacity="0.10"/>
<rect x="632.8" y="332.0" width="6.8" height="145.8" fill="#000010" opacity="0.02"/>
<rect x="801.2" y="338.0" width="2.8" height="139.7" fill="#000010" opacity="0.07"/>
<rect x="804.0" y="338.0" width="4.4" height="139.7" fill="#0a0a70" opacity="0.06"/>
<rect x="808.4" y="338.0" width="3.4" height="139.7" fill="#0a0a70" opacity="0.01"/>
<rect x="811.8" y="338.0" width="5.0" height="139.7" fill="#000010" opacity="0.03"/>
<rect x="816.8" y="338.0" width="5.5" height="139.7" fill="#000010" opacity="0.05"/>
<rect x="822.3" y="338.0" width="4.3" height="139.7" fill="#0a0a70" opacity="0.09"/>
<rect x="826.6" y="338.0" width="4.0" height="139.7" fill="#0a0a70" opacity="0.04"/>
<rect x="830.6" y="338.0" width="5.2" height="139.7" fill="#000010" opacity="0.01"/>
<rect x="835.7" y="338.0" width="6.9" height="139.7" fill="#000010" opacity="0.04"/>
<rect x="842.7" y="338.0" width="3.7" height="139.7" fill="#000010" opacity="0.01"/>
<rect x="846.4" y="338.0" width="4.8" height="139.7" fill="#0a0a70" opacity="0.05"/>
<rect x="851.2" y="338.0" width="5.1" height="139.7" fill="#000010" opacity="0.01"/>
<rect x="856.3" y="338.0" width="5.1" height="139.7" fill="#0a0a70" opacity="0.01"/>
<rect x="861.3" y="338.0" width="6.8" height="139.7" fill="#0a0a70" opacity="0.06"/>
<rect x="868.1" y="338.0" width="2.6" height="139.7" fill="#0a0a70" opacity="0.08"/>
<rect x="870.7" y="338.0" width="4.4" height="139.7" fill="#000010" opacity="0.03"/>
<rect x="875.1" y="338.0" width="2.5" height="139.7" fill="#0a0a70" opacity="0.03"/>
<rect x="877.6" y="338.0" width="4.4" height="139.7" fill="#000010" opacity="0.07"/>
<rect x="882.0" y="338.0" width="3.0" height="139.7" fill="#0a0a70" opacity="0.10"/>
<rect x="885.1" y="338.0" width="2.7" height="139.7" fill="#000010" opacity="0.05"/>
<rect x="887.8" y="338.0" width="5.8" height="139.7" fill="#000010" opacity="0.03"/>
<rect x="893.6" y="338.0" width="5.5" height="139.7" fill="#0a0a70" opacity="0.03"/>
<rect x="899.1" y="338.0" width="6.5" height="139.7" fill="#000010" opacity="0.04"/>
<rect x="905.6" y="338.0" width="4.7" height="139.7" fill="#0a0a70" opacity="0.08"/>
<rect x="910.3" y="338.0" width="5.2" height="139.7" fill="#000010" opacity="0.06"/>
<rect x="915.4" y="338.0" width="6.0" height="139.7" fill="#000010" opacity="0.08"/>
<rect x="921.5" y="338.0" width="3.0" height="139.7" fill="#000010" opacity="0.05"/>
<rect x="924.5" y="338.0" width="6.9" height="139.7" fill="#0a0a70" opacity="0.08"/>
<rect x="931.4" y="338.0" width="3.3" height="139.7" fill="#0a0a70" opacity="0.07"/>
<rect x="934.7" y="338.0" width="4.2" height="139.7" fill="#0a0a70" opacity="0.09"/>
<rect x="939.0" y="338.0" width="6.8" height="139.7" fill="#000010" opacity="0.04"/>
<rect x="945.7" y="338.0" width="2.5" height="139.7" fill="#0a0a70" opacity="0.05"/>
<rect x="948.2" y="338.0" width="3.0" height="139.7" fill="#000010" opacity="0.06"/>
<rect x="951.3" y="338.0" width="2.8" height="139.7" fill="#000010" opacity="0.07"/>
<g clip-path="url(#cb)">
<polyline points="123.5,552.1 125.0,552.1 160.6,552.1 201.4,555.3 238.4,562.6 274.2,561.4 312.7,559.1 349.8,563.9 382.8,554.8 424.1,554.8 460.2,555.6 499.3,557.1 536.1,562.6 576.1,556.3 613.2,549.5 649.8,522.5 686.3,470.8 724.6,394.8 756.5,302.0" fill="none" stroke="#ff0000" stroke-width="3.9" stroke-linejoin="round"/>
</g>
<line x1="151.3" y1="552.1" x2="169.9" y2="552.1" stroke="#2a2a2a" stroke-width="3.6"/>
<circle cx="160.6" cy="552.1" r="3.9" fill="#e8202a" stroke="#2a2a2a" stroke-width="1"/>
<line x1="192.1" y1="555.3" x2="210.7" y2="555.3" stroke="#2a2a2a" stroke-width="3.6"/>
<circle cx="201.4" cy="555.3" r="3.9" fill="#e8202a" stroke="#2a2a2a" stroke-width="1"/>
<line x1="229.1" y1="562.6" x2="247.7" y2="562.6" stroke="#2a2a2a" stroke-width="3.6"/>
<circle cx="238.4" cy="562.6" r="3.9" fill="#e8202a" stroke="#2a2a2a" stroke-width="1"/>
<line x1="264.9" y1="561.4" x2="283.5" y2="561.4" stroke="#2a2a2a" stroke-width="3.6"/>
<circle cx="274.2" cy="561.4" r="3.9" fill="#e8202a" stroke="#2a2a2a" stroke-width="1"/>
<line x1="303.4" y1="559.1" x2="322.0" y2="559.1" stroke="#2a2a2a" stroke-width="3.6"/>
<circle cx="312.7" cy="559.1" r="3.9" fill="#e8202a" stroke="#2a2a2a" stroke-width="1"/>
<line x1="340.5" y1="563.9" x2="359.1" y2="563.9" stroke="#2a2a2a" stroke-width="3.6"/>
<circle cx="349.8" cy="563.9" r="3.9" fill="#e8202a" stroke="#2a2a2a" stroke-width="1"/>
<line x1="373.5" y1="554.8" x2="392.1" y2="554.8" stroke="#2a2a2a" stroke-width="3.6"/>
<circle cx="382.8" cy="554.8" r="3.9" fill="#e8202a" stroke="#2a2a2a" stroke-width="1"/>
<line x1="414.8" y1="554.8" x2="433.4" y2="554.8" stroke="#2a2a2a" stroke-width="3.6"/>
<circle cx="424.1" cy="554.8" r="3.9" fill="#e8202a" stroke="#2a2a2a" stroke-width="1"/>
<line x1="450.9" y1="555.6" x2="469.5" y2="555.6" stroke="#2a2a2a" stroke-width="3.6"/>
<circle cx="460.2" cy="555.6" r="3.9" fill="#e8202a" stroke="#2a2a2a" stroke-width="1"/>
<line x1="490.0" y1="557.1" x2="508.6" y2="557.1" stroke="#2a2a2a" stroke-width="3.6"/>
<circle cx="499.3" cy="557.1" r="3.9" fill="#e8202a" stroke="#2a2a2a" stroke-width="1"/>
<line x1="526.8" y1="562.6" x2="545.4" y2="562.6" stroke="#2a2a2a" stroke-width="3.6"/>
<circle cx="536.1" cy="562.6" r="3.9" fill="#e8202a" stroke="#2a2a2a" stroke-width="1"/>
<line x1="566.8" y1="556.3" x2="585.4" y2="556.3" stroke="#2a2a2a" stroke-width="3.6"/>
<circle cx="576.1" cy="556.3" r="3.9" fill="#e8202a" stroke="#2a2a2a" stroke-width="1"/>
<line x1="603.9" y1="549.5" x2="622.5" y2="549.5" stroke="#2a2a2a" stroke-width="3.6"/>
<circle cx="613.2" cy="549.5" r="3.9" fill="#e8202a" stroke="#2a2a2a" stroke-width="1"/>
<line x1="640.5" y1="522.5" x2="659.1" y2="522.5" stroke="#2a2a2a" stroke-width="3.6"/>
<circle cx="649.8" cy="522.5" r="3.9" fill="#e8202a" stroke="#2a2a2a" stroke-width="1"/>
<line x1="677.0" y1="470.8" x2="695.6" y2="470.8" stroke="#2a2a2a" stroke-width="3.6"/>
<circle cx="686.3" cy="470.8" r="3.9" fill="#e8202a" stroke="#2a2a2a" stroke-width="1"/>
<line x1="715.3" y1="394.8" x2="733.9" y2="394.8" stroke="#2a2a2a" stroke-width="3.6"/>
<circle cx="724.6" cy="394.8" r="3.9" fill="#e8202a" stroke="#2a2a2a" stroke-width="1"/>
<line x1="567.2" y1="467.3" x2="636.9" y2="513.9" stroke="#333" stroke-width="1.8"/><polygon points="645.9,519.9 632.0,517.3 636.9,513.9 638.2,508.0" fill="#333"/>
<line x1="812.6" y1="471.2" x2="711.2" y2="471.2" stroke="#333" stroke-width="1.8"/><polygon points="700.4,471.2 713.4,465.6 711.2,471.2 713.4,476.8" fill="#333"/>
<g clip-path="url(#cc)">
<polyline points="123.5,821.4 123.5,821.4 123.4,821.4 123.3,821.4 123.4,821.4 123.9,821.5 125.0,821.6 126.7,821.8 129.1,822.1 131.8,822.4 134.6,822.8 137.5,823.1 140.2,823.4 142.7,823.7 145.2,824.0 147.8,824.2 150.3,824.5 152.8,824.7 155.3,824.9 157.8,825.0 160.3,825.1 162.9,825.1 165.4,825.2 167.9,825.2 170.4,825.4 172.9,825.7 175.4,826.0 177.9,826.3 180.5,826.7 183.0,827.1 185.5,827.4 188.0,827.7 190.6,828.0 193.2,828.3 195.8,828.6 198.2,828.8 200.6,829.0 202.8,829.1 205.0,829.2 207.1,829.2 209.1,829.2 211.1,829.1 213.2,829.0 215.3,828.8 217.4,828.6 219.5,828.4 221.6,828.1 223.7,827.7 225.8,827.2 227.9,826.6 230.0,825.9 232.1,825.1 234.2,824.4 236.3,823.6 238.4,822.9 240.5,822.3 242.7,821.6 244.9,821.0 247.0,820.5 249.0,820.0 251.0,819.6 252.8,819.3 254.5,819.1 256.1,819.0 257.6,818.9 259.3,818.9 261.1,818.9 263.0,819.0 265.0,819.1 267.1,819.2 269.2,819.5 271.4,819.7 273.7,819.9 276.1,820.2 278.5,820.5 281.1,820.8 283.7,821.1 286.3,821.4 288.8,821.6 291.3,821.7 293.9,821.7 296.5,821.6 299.1,821.6 301.5,821.5 303.9,821.6 306.1,821.7 308.3,821.9 310.4,822.1 312.4,822.4 314.4,822.6 316.5,822.9 318.6,823.2 320.7,823.5 322.8,823.9 324.9,824.3 327.0,824.6 329.1,824.9 331.2,825.2 333.2,825.4 335.2,825.7 337.3,825.9 339.5,826.1 341.7,826.2 344.1,826.3 346.6,826.3 349.2,826.2 351.9,826.1 354.4,826.0 356.8,825.9 359.0,825.7 361.1,825.5 363.1,825.3 365.1,825.0 367.2,824.7 369.4,824.4 371.8,824.0 374.3,823.5 376.8,823.0 379.4,822.5 382.0,822.0 384.6,821.6 387.2,821.2 389.7,820.9 392.3,820.5 394.9,820.3 397.3,820.0 399.7,819.9 401.9,819.8 404.0,819.9 406.0,820.0 408.0,820.1 410.1,820.2 412.3,820.4 414.6,820.6 417.1,820.7 419.5,820.9 422.1,821.2 424.7,821.5 427.4,821.8 430.2,822.2 433.2,822.7 436.2,823.2 439.3,823.8 442.3,824.3 445.1,824.9 447.8,825.5 450.4,826.2 453.0,826.8 455.4,827.5 457.9,828.0 460.2,828.5 462.4,828.9 464.5,829.2 466.5,829.4 468.5,829.6 470.6,829.7 472.8,829.7 475.2,829.6 477.6,829.5 480.2,829.3 482.8,829.0 485.3,828.6 487.9,828.0 490.5,827.2 493.1,826.1 495.7,824.9 498.2,823.6 500.7,822.5 503.1,821.6 505.4,820.9 507.5,820.3 509.6,819.8 511.6,819.4 513.6,819.1 515.7,818.9 517.8,818.8 519.9,818.8 522.0,818.8 524.1,819.0 526.2,819.3 528.3,819.6 530.4,820.1 532.5,820.7 534.7,821.3 536.8,822.1 538.9,822.8 540.9,823.4 542.9,824.0 544.8,824.7 546.6,825.4 548.5,826.0 550.3,826.4 552.2,826.7 554.1,826.8 555.9,826.7 557.8,826.4 559.6,826.1 561.5,825.7 563.5,825.4 565.5,825.1 567.6,824.7 569.7,824.3 571.9,823.8 574.0,823.4 576.1,822.9 578.2,822.3 580.3,821.7 582.4,821.0 584.5,820.4 586.6,819.9 588.7,819.6 590.8,819.5 592.9,819.5 595.0,819.6 597.1,819.9 599.2,820.1 601.3,820.4 603.4,820.7 605.5,821.1 607.5,821.5 609.6,822.0 611.7,822.5 613.9,822.9 616.2,823.4 618.5,823.9 620.9,824.4 623.3,824.9 625.6,825.2 627.8,825.4 629.8,825.3 631.7,825.1 633.5,824.8 635.3,824.3 637.2,823.9 639.1,823.4 641.1,822.9 643.1,822.3 645.2,821.7 647.3,821.1 649.4,820.5 651.7,819.9 654.1,819.3 656.6,818.7 659.2,818.1 661.9,817.6 664.4,817.2 666.8,817.1 669.0,817.2 671.2,817.6 673.3,818.2 675.3,818.8 677.3,819.4 679.4,819.9 681.5,820.3 683.6,820.8 685.8,821.2 687.9,821.6 690.0,821.9 692.0,822.2 694.0,822.4 695.9,822.7 697.8,822.9 699.7,823.0 701.5,823.0 703.4,822.9 705.3,822.7 707.1,822.3 709.0,821.9 710.8,821.4 712.7,820.9 714.7,820.4 716.7,820.0 718.8,819.6 720.9,819.3 723.1,818.9 725.2,818.4 727.3,817.9 729.4,817.3 731.5,816.5 733.6,815.7 735.7,814.9 737.8,814.2 739.9,813.6 742.0,813.1 744.1,812.8 746.2,812.5 748.4,812.2 750.5,811.9 752.6,811.4 754.7,810.7 756.8,809.9 758.9,809.0 761.0,808.1 763.1,807.4 765.2,806.8 767.3,806.5 769.4,806.3 771.5,806.3 773.6,806.3 775.7,806.3 777.8,806.3 779.9,806.2 782.0,806.2 784.1,806.1 786.2,806.1 788.3,806.1 790.4,806.1 792.5,806.2 794.5,806.5 796.5,806.7 798.6,807.0 800.8,807.1 803.0,807.1 805.4,806.9 807.8,806.6 810.4,806.2 813.0,805.7 815.6,805.2 818.1,804.8 820.6,804.4 823.1,804.1 825.7,803.8 828.2,803.4 830.7,802.9 833.2,802.3 835.7,801.5 838.3,800.5 840.9,799.4 843.5,798.2 845.9,797.1 848.3,796.0 850.5,795.0 852.7,794.0 854.8,793.0 856.8,792.0 858.8,790.9 860.9,789.7 863.0,788.4 865.0,787.0 867.0,785.5 869.1,784.0 871.2,782.5 873.5,781.1 875.9,779.7 878.4,778.2 880.9,776.8 883.5,775.4 886.1,774.1 888.7,772.8 891.2,771.6 893.7,770.5 896.3,769.4 898.8,768.3 901.3,767.4 903.8,766.5 906.3,765.7 908.8,765.1 911.3,764.5 913.9,763.9 916.4,763.3 918.9,762.7 921.4,762.0 923.9,761.2 926.5,760.5 929.0,759.7 931.5,758.9 934.0,758.2 936.5,757.5 939.0,756.9 941.5,756.2 944.1,755.6 946.6,755.0 949.1,754.4 951.6,753.8 954.0,753.2 956.5,752.7 959.0,752.1 961.5,751.5 964.2,750.7 967.0,749.8 970.0,748.9 973.1,747.9 976.1,746.8 979.1,745.7 981.9,744.6 984.6,743.5 987.1,742.3 989.6,741.2 992.1,740.0 994.5,738.7 997.0,737.5 999.6,736.2 1002.2,735.0 1004.8,733.6 1007.4,732.3 1009.8,730.9 1012.1,729.5 1014.2,728.0 1016.1,726.5 1017.8,725.0 1019.6,723.4 1021.3,721.7 1023.2,720.0 1025.2,718.2 1027.1,716.2 1029.1,714.2 1031.2,712.2 1033.3,710.2 1035.5,708.2 1037.8,706.2 1040.1,704.2 1042.6,702.2 1045.0,700.2 1047.5,698.2 1050.0,696.3 1052.6,694.4 1055.2,692.6 1057.9,690.8 1060.5,689.0 1063.0,687.3 1065.2,685.6 1067.1,684.0 1068.8,682.4 1070.4,680.9 1071.9,679.4 1073.4,677.7 1074.9,675.9 1076.5,673.9 1078.1,671.8 1079.7,669.6 1081.3,667.3 1082.9,665.0 1084.5,662.7 1086.1,660.4 1087.7,658.2 1089.3,656.0 1091.0,653.6 1092.6,651.1 1094.2,648.2 1095.8,645.0 1097.4,641.6 1099.1,638.0 1100.7,634.2 1102.3,630.3 1103.9,626.4 1105.5,622.3 1107.2,618.0 1108.9,613.6 1110.5,609.2 1112.0,605.0 1113.5,601.1 1114.9,597.5 1116.2,594.1 1117.4,590.8 1118.6,587.7 1119.7,584.7 1120.8,581.7 1121.9,578.7 1123.0,575.6 1124.1,572.6 1125.1,569.9 1125.9,567.7 1126.5,566.0" fill="none" stroke="#ff0000" stroke-width="3.9" stroke-linejoin="round" stroke-linecap="butt" />
</g>
<g clip-path="url(#cd)">
<polyline points="125.0,924.8 126.0,935.8 127.1,923.5 128.1,935.9 129.4,924.0 130.9,935.5 132.0,923.5 133.1,936.1 134.2,923.9 135.5,933.4 136.8,922.4 137.9,935.0 139.1,922.3 140.3,932.9 141.4,924.1 142.4,933.9 143.6,922.7 145.1,932.2 146.5,922.9 147.6,934.3 148.6,922.0 149.8,935.8 151.3,922.7 152.2,934.2 153.4,922.1 154.3,936.4 155.3,923.3 156.2,936.7 157.4,923.2 158.8,936.3 159.8,922.2 161.0,939.6 162.1,919.4 163.5,937.0 164.9,918.8 166.3,939.4 167.4,920.2 168.4,936.6 169.4,919.1 170.4,938.2 171.8,915.3 173.2,935.7 174.6,918.7 175.6,936.4 176.8,919.5 177.8,936.9 179.2,917.9 180.4,936.6 181.3,915.9 182.8,938.3 183.9,918.9 185.0,938.0 186.3,920.3 187.7,937.6 188.8,918.9 190.1,935.0 191.1,919.9 192.1,935.2 193.6,922.3 194.8,936.0 196.2,921.3 197.4,936.8 198.5,921.4 199.6,937.0 200.9,924.0 202.2,938.1 203.7,923.3 204.8,938.6 206.3,925.1 207.6,941.2 209.1,926.3 210.4,939.6 211.6,924.7 213.0,942.5 214.0,924.2 215.1,940.9 216.1,925.7 217.0,940.7 218.3,925.0 219.3,942.7 220.5,927.2 221.8,942.7 223.0,926.1 224.3,942.4 225.6,925.3 226.7,940.1 227.6,927.2 228.9,943.6 230.0,927.0 231.2,943.4 232.5,927.3 233.9,943.5 235.2,927.0 236.2,941.3 237.2,928.0 238.4,942.7 239.7,927.2 241.2,940.1 242.2,927.8 243.5,941.5 244.6,926.1 246.1,939.0 247.5,926.0 248.7,937.0 249.6,927.8 250.8,935.8 251.9,926.6 253.0,938.2 254.2,924.7 255.5,938.6 256.7,924.3 257.9,937.2 258.8,922.3 259.9,941.2 260.9,921.8 262.2,940.8 263.6,923.3 264.6,941.2 265.7,920.9 266.7,943.4 268.0,919.8 269.4,940.3 270.7,918.7 272.1,940.5 273.1,919.3 274.4,940.7 275.8,920.8 277.1,943.7 278.3,923.7 279.3,941.1 280.5,925.1 281.5,939.5 282.7,921.9 284.1,938.3 285.2,923.0 286.2,940.6 287.2,923.9 288.6,941.2 289.5,922.6 291.0,941.4 292.3,924.6 293.4,938.6 294.5,925.0 295.5,942.5 297.0,923.1 298.0,939.5 299.2,926.3 300.3,941.8 301.4,925.4 302.5,943.4 303.4,923.7 304.7,943.1 306.0,927.6 307.4,943.0 308.6,925.7 310.0,943.7 311.2,924.1 312.2,946.7 313.2,926.7 314.4,947.2 315.3,929.0 316.8,946.0 317.8,925.4 318.9,946.1 320.1,929.6 321.3,943.6 322.8,924.7 323.7,941.5 324.9,926.7 326.3,937.1 327.5,924.7 328.7,935.1 330.2,923.1 331.2,938.4 332.2,921.8 333.2,940.4 334.3,922.0 335.6,941.0 337.0,922.1 338.0,943.0 339.3,922.5 340.6,942.5 341.6,920.2 342.7,945.2 344.1,926.7 345.0,944.4 346.0,927.8 347.1,945.2 348.6,928.4 349.8,944.8 351.1,930.7 352.2,943.5 353.3,928.7 354.5,944.9 355.4,926.4 356.7,942.8 357.8,923.3 358.9,941.1 360.1,919.1 361.0,940.5 362.1,918.3 363.4,940.9 364.3,922.0 365.5,945.9 367.0,921.2 368.1,948.8 369.5,918.4 370.5,949.2 371.9,923.2 373.0,951.5 374.0,923.3 375.0,950.8 376.2,924.4 377.4,947.8 378.3,921.8 379.3,947.2 380.6,925.2 382.0,950.0 383.3,925.0 384.7,946.3 386.2,924.1 387.5,948.8 388.4,925.5 389.8,943.7 391.2,924.2 392.4,948.0 393.4,926.2 394.6,945.4 396.0,924.8 397.5,944.7 398.7,925.1 400.1,941.6 401.4,919.3 402.3,942.0 403.8,922.3 405.2,943.1 406.5,917.9 407.8,939.0 409.2,921.8 410.3,939.8 411.4,926.0 412.5,944.5 413.5,929.9 414.4,944.6 415.8,931.5 417.0,945.3 418.2,930.6 419.7,943.3 420.8,928.4 422.0,941.4 423.2,928.6 424.3,938.7 425.5,927.3 426.7,937.5 428.0,927.1 429.2,937.1 430.6,929.0 432.0,938.8 432.9,929.8 433.9,940.4 435.3,930.6 436.4,942.6 437.7,936.8 438.7,946.3 440.0,942.6 441.0,947.5 442.4,941.4 443.5,947.2 444.8,939.7 446.0,948.0 447.1,938.6 448.2,950.0 449.7,933.8 451.1,950.1 452.4,932.6 453.7,951.1 455.0,930.7 456.3,951.1 457.5,932.7 458.8,949.4 459.8,932.4 461.0,953.1 462.2,927.9 463.2,950.4 464.7,928.2 466.0,950.9 467.3,929.8 468.4,950.3 469.4,930.6 470.5,953.5 471.7,929.7 473.0,953.3 474.1,928.9 475.5,950.1 476.5,932.3 477.9,950.0 479.0,936.3 480.0,950.9 481.1,935.0 482.2,949.5 483.5,935.0 484.5,953.2 485.8,935.9 487.3,952.4 488.5,938.5 489.6,953.1 490.7,937.5 491.8,954.8 492.9,935.8 494.0,954.7 495.2,938.9 496.5,957.0 497.5,937.5 498.4,954.7 499.9,937.3 501.4,953.3 502.7,937.6 503.7,953.7 505.0,938.0 506.2,951.7 507.5,939.5 508.9,949.2 509.8,940.3 511.3,948.4 512.7,937.3 514.2,947.9 515.2,937.3 516.6,949.8 517.5,938.4 518.4,949.3 519.6,937.0 520.9,952.5 522.0,936.5 523.4,953.5 524.3,935.9 525.7,952.6 526.8,934.4 528.1,950.6 529.1,931.9 530.3,951.8 531.7,931.6 532.8,949.9 533.8,931.8 535.2,951.1 536.6,932.5 537.9,950.2 539.1,936.0 540.2,952.4 541.3,934.3 542.5,952.1 543.5,937.2 544.5,955.4 545.8,937.3 546.8,954.9 548.1,941.2 549.3,956.0 550.2,938.8 551.3,954.4 552.6,940.0 554.0,956.4 555.0,943.7 556.0,954.9 557.3,944.3 558.8,954.1 559.8,944.6 561.3,954.0 562.3,943.6 563.2,953.3 564.3,942.0 565.4,952.3 566.9,941.7 568.4,953.1 569.8,941.8 570.9,956.1 572.2,942.4 573.4,956.6 574.4,941.2 575.6,956.1 576.9,942.1 578.1,959.4 579.4,941.8 580.6,963.0 582.0,943.9 583.0,960.3 584.1,942.2 585.2,957.4 586.2,942.4 587.2,959.4 588.4,943.6 589.7,957.8 590.7,944.1 591.7,956.9 593.1,945.6 594.2,955.8 595.6,945.5 596.6,954.7 597.8,947.8 599.0,954.8 600.2,948.4 601.6,956.0 603.0,948.3 604.0,955.9 605.0,945.4 606.4,956.8 607.4,943.8 608.8,954.8 610.2,943.2 611.2,955.7 612.3,942.1 613.6,955.4 614.5,941.6 615.7,953.0 616.7,937.0 618.2,955.8 619.6,939.7 621.1,954.0 622.2,942.4 623.3,955.7 624.4,942.4 625.9,958.6 627.0,944.4 628.1,957.2 629.5,945.7 630.5,958.2 631.8,945.2 632.8,958.2 633.9,946.6 634.9,959.9 636.2,944.7 637.3,960.2 638.2,946.2 639.2,958.4 640.6,946.7 642.0,959.8 643.4,947.2 644.4,958.2 645.8,946.8 646.8,959.9 647.9,949.0 649.0,960.6 650.0,950.0 651.0,962.3 652.4,952.4 653.7,963.4 654.8,953.5 655.7,963.9 657.2,953.9 658.3,963.8 659.5,954.5 660.9,965.1 662.1,954.0 663.5,964.7 664.8,951.5 666.3,966.4 667.3,951.9 668.6,965.0 670.1,952.4 671.5,965.1 672.5,953.0 673.4,965.8 674.4,949.9 675.8,968.5 677.2,948.7 678.2,965.7 679.2,950.5 680.2,965.1 681.6,948.9 682.9,965.9 684.0,950.2 685.1,965.6 686.3,949.1 687.6,969.6 688.5,946.3 689.7,969.2 690.6,948.4 691.6,973.9 692.6,950.8 693.7,971.9 695.2,948.5 696.1,975.4 697.5,950.9 698.8,979.9 699.9,952.7 701.2,977.0 702.7,953.5 703.7,973.7 705.1,953.7 706.6,969.6 707.9,954.3 709.2,969.2 710.2,957.6 711.5,972.2 712.5,961.2 713.5,976.0 714.9,966.2 715.8,977.4 717.1,961.9 718.3,977.2 719.3,961.0 720.4,978.1 721.4,957.4 722.5,982.8 724.0,957.2 725.3,980.2 726.3,957.9 727.5,981.2 728.9,955.5 729.9,982.8 731.0,954.3 732.4,982.8 733.7,956.2 734.9,983.7 736.3,961.3 737.8,984.7 739.0,959.5 740.0,979.4 741.2,960.8 742.2,976.2 743.2,963.1 744.4,977.2 745.7,962.1 747.0,980.0 748.1,963.0 749.3,979.3 750.2,966.2 751.5,980.7 752.6,966.8 753.5,982.2 754.8,969.1 755.8,981.6 756.9,967.0 758.3,983.1 759.7,967.2 760.8,983.9 762.2,963.4 763.5,980.3 764.8,965.1 765.8,979.7 767.1,962.9 768.2,977.2 769.2,958.4 770.6,977.6 771.6,956.9 773.0,972.8 774.1,957.8 775.1,974.5 776.4,955.5 777.9,974.2 779.2,954.9 780.5,971.5 781.7,954.8 782.9,972.2 783.8,952.7 784.8,972.1 786.0,951.6 787.5,970.3 788.8,947.4 789.9,970.3 791.1,951.4 792.1,966.4 793.4,950.4 794.7,966.5 796.0,948.1 797.3,971.5 798.5,951.4 799.7,974.9 800.9,953.9 802.3,978.1 803.2,955.3 804.3,977.4 805.2,954.9 806.4,981.8 807.5,953.3 808.9,985.7 809.8,952.5 811.3,982.6 812.5,951.1 813.6,984.6 814.8,950.8 816.1,981.9 817.1,954.2 818.4,980.8 819.4,954.9 820.6,983.4 821.9,957.7 823.2,978.8 824.4,956.9 825.7,980.1 826.7,955.8 827.9,980.4 829.3,953.7 830.8,977.1 832.0,959.4 833.4,980.3 834.8,962.2 835.8,981.6 836.9,958.8 838.1,984.5 839.5,963.4 840.7,986.3 842.0,964.3 843.1,987.9 844.1,965.2 845.5,986.1 846.7,963.8 847.9,992.4 849.2,961.5 850.6,994.2 852.0,965.7 853.2,989.2 854.7,959.7 856.1,992.1 857.2,962.2 858.7,994.9 859.7,963.4 861.0,990.2 862.2,961.4 863.3,991.7 864.5,963.8 865.7,991.1 866.7,966.7 868.0,990.8 869.2,971.1 870.4,988.9 871.8,974.6 873.0,990.9 874.3,973.7 875.3,998.3 876.5,972.2 877.8,996.6 878.7,969.4 879.8,1001.3 880.8,970.4 882.2,1004.3 883.3,974.6 884.6,1007.7 886.0,968.3 886.9,1008.9 888.0,972.5 889.0,1004.5 890.0,972.6 890.9,1003.4 892.4,970.3 893.8,1001.8 895.1,964.7 896.1,1005.2 897.5,973.1 898.4,1003.7 899.4,969.8 900.7,1006.6 901.7,965.0 902.8,1004.8 904.2,969.2 905.7,997.7 906.6,962.3 907.9,1006.3 909.2,964.6 910.4,1007.1 911.8,958.8 912.9,1002.1 914.1,964.7 915.2,1002.2 916.4,955.9 917.4,996.1 918.9,953.8 920.1,991.7 921.4,958.3 922.5,991.1 924.0,968.0 925.3,995.8 926.5,977.1 927.6,1001.2 928.6,981.7 929.5,1007.2 930.8,979.7 932.0,1008.2 933.0,978.4 933.9,1006.6 935.1,977.3 936.4,1006.0 937.7,969.3 938.6,999.9 939.8,969.7 940.9,1003.7 942.2,965.7 943.6,998.3 944.6,966.7 946.0,1005.0 947.3,970.5 948.5,1010.6 949.7,965.3 950.8,1007.1 952.2,965.6 953.1,1009.3 954.1,971.2 955.2,1004.4 956.7,960.5 957.9,998.7 959.1,967.1 960.0,998.5 961.0,975.5 962.2,999.8 963.1,975.7 964.2,998.2 965.3,971.6 966.3,991.2 967.4,963.4 968.9,992.9 970.1,960.1 971.6,994.5 973.1,945.1 974.5,985.9 975.9,943.4 976.9,994.7 978.0,956.9 978.9,991.3 980.1,949.6 981.4,994.3 982.3,941.7 983.5,984.2 984.7,929.5 986.0,989.9 986.9,930.8 988.4,976.7 989.4,921.5 990.3,976.2 991.8,919.2 993.0,988.2 994.5,941.4 995.5,984.2 996.6,939.6 997.7,988.6 999.2,936.2 1000.5,979.0 1001.7,932.6 1002.8,970.2 1004.2,922.5 1005.6,965.2 1006.7,914.6 1007.8,956.1 1008.8,902.4 1010.2,957.5 1011.1,875.7 1012.5,958.5 1013.5,901.2 1014.6,966.9 1015.5,922.4 1016.6,961.6 1018.0,925.9 1019.0,952.5 1020.3,904.0 1021.6,934.8 1022.7,895.3 1023.9,930.5 1025.1,891.7 1026.4,931.7 1027.7,887.5 1028.9,930.1 1029.9,893.7 1031.1,926.7 1032.3,908.7 1033.4,927.5 1034.4,909.5 1035.8,925.3 1036.9,887.5 1038.4,933.4 1039.5,868.2 1040.7,923.6 1042.1,869.7 1043.4,913.6 1044.5,861.9 1045.8,910.6 1047.0,858.1 1047.9,914.3 1048.9,864.7 1050.4,914.8 1051.6,865.8 1052.7,912.9 1054.1,872.0 1055.1,923.1 1056.5,868.6 1057.8,925.6 1059.2,874.6 1060.6,938.6 1061.7,887.7 1063.0,944.7 1064.3,872.4 1065.4,947.7 1066.8,875.0 1067.8,951.0 1068.8,867.3 1070.0,953.1 1071.4,870.7 1072.5,948.8 1073.6,885.3 1074.6,941.4 1076.0,879.8 1077.0,939.5 1078.4,880.6 1079.6,926.1 1080.8,887.8 1081.7,935.5 1082.7,886.8 1084.0,942.5 1085.1,891.2 1086.0,940.1 1087.2,895.7 1088.2,942.3 1089.6,878.3 1090.7,934.4 1092.2,874.4 1093.5,928.7 1094.6,884.8 1095.9,922.8 1097.1,890.9 1098.5,925.1 1099.8,889.6 1101.1,924.4 1102.6,886.6 1103.7,931.6 1105.1,879.7 1106.0,937.5 1107.1,873.5 1108.0,943.3 1109.4,860.9 1110.6,921.0 1111.6,862.7 1112.5,919.3 1113.9,860.7 1115.3,911.2 1116.5,869.4 1117.8,908.2 1119.2,876.5 1120.3,921.2 1121.4,889.2 1122.5,918.6 1123.4,875.5 1124.8,925.8 1125.9,870.1 1127.1,921.3 1128.3,860.9 1129.4,924.6 1130.8,853.5 1132.3,911.1 1133.4,857.3 1134.4,914.1 1135.6,848.2 1137.1,911.6 1138.3,853.7 1139.8,901.8 1141.0,849.1 1142.3,895.1 1143.6,837.0 1144.9,888.9 1146.3,831.5 1147.2,889.4 1148.6,830.3 1149.8,874.4 1150.9,828.6 1152.2,869.0 1153.1,833.5 1154.5,867.5 1155.5,833.1 1156.4,867.8 1157.8,822.7 1159.2,868.3 1160.3,831.0 1161.7,868.4 1162.7,830.1 1164.1,871.4 1165.5,824.4 1166.7,883.0 1167.6,828.2 1168.6,893.5 1169.8,830.6 1171.2,891.9 1172.4,830.7 1173.4,878.8 1174.8,833.9 1176.2,870.0 1177.4,821.8 1178.6,862.3 1179.8,818.1 1180.7,858.2 1182.0,818.2 1183.3,857.6 1184.8,817.3 1185.7,856.4 1187.2,818.0 1188.4,857.8 1189.6,820.1 1191.0,860.5 1192.4,820.0 1193.4,864.6 1194.4,816.1 1195.6,860.9 1196.7,812.5 1197.6,859.8 1198.7,818.2 1200.0,867.9 1201.0,815.3 1202.5,878.0 1203.9,818.1 1205.3,885.6 1206.3,830.6 1207.7,887.9 1208.9,822.9 1210.2,875.4 1211.3,824.5 1212.3,864.8 1213.3,821.7 1214.6,866.2 1215.7,812.6 1216.9,858.7 1218.2,809.6 1219.1,858.4 1220.2,813.3 1221.6,854.0 1222.6,815.1 1223.5,855.9 1224.6,816.4 1225.6,854.5 1227.0,809.2 1228.1,852.5 1229.6,809.4 1230.6,851.1 1231.8,810.6 1232.9,853.4 1233.8,815.6 1234.8,854.1 1235.7,817.3 1236.9,854.4 1238.3,813.7 1239.3,852.0 1240.4,810.1 1241.5,858.7 1242.7,816.4 1243.9,850.4 1245.3,814.2 1246.8,851.3 1248.2,806.8 1249.3,853.7 1250.3,814.2" fill="none" stroke="#ff0000" stroke-width="2.6" stroke-linejoin="round"/>
<polyline points="122.5,949.0 124.3,928.0 125.6,922.2 127.1,941.8 128.9,923.4 130.8,937.9 132.7,918.3 134.5,937.0 136.6,923.0 138.3,937.1 139.6,922.7 140.8,934.2 142.2,919.3 143.7,933.4 145.3,921.5 147.3,935.5 148.7,923.7 150.6,936.0 152.6,921.3 154.5,940.4 156.6,920.3 158.3,944.7 159.8,919.3 161.9,941.9 163.7,911.7 165.1,945.2 167.1,920.1 168.9,940.6 170.8,915.7 172.3,942.3 174.4,916.5 175.8,937.3 176.7,961.0 178.6,940.1 180.0,915.1 181.9,942.0 183.6,910.0 185.4,936.9 186.7,912.7 188.5,935.8 189.9,916.5 191.2,935.4 193.3,918.1 195.0,938.0 196.7,921.1 198.0,935.0 199.7,919.3 201.1,937.5 202.6,918.8 204.5,944.6 206.3,921.8 208.1,947.5 209.7,919.6 212.0,957.0 213.4,920.0 215.5,941.9 217.1,919.9 218.3,943.2 220.4,925.1 221.8,949.3 223.7,927.1 225.1,948.5 227.1,923.3 228.7,944.4 230.2,927.6 231.7,946.0 233.6,927.5 234.8,948.2 236.2,925.2 237.5,945.0 238.8,922.9 240.4,941.4 241.6,927.3 243.3,942.5 245.3,921.5 247.2,943.6 248.7,924.1 250.6,938.0 252.0,922.5 253.6,940.0 255.6,919.2 257.4,938.0 259.2,920.4 261.0,942.0 263.0,914.0 264.7,944.0 266.3,913.5 268.7,899.0 269.9,921.8 271.7,950.3 273.0,914.8 274.9,952.5 276.4,914.3 278.2,946.3 280.1,923.4 282.0,940.2 283.8,924.0 285.8,946.0 287.7,923.0 289.7,946.2 291.3,924.4 292.8,944.9 294.8,923.4 296.3,944.9 298.2,923.5 299.9,946.8 301.3,918.2 302.7,940.8 304.0,922.3 305.6,944.5 307.2,922.0 308.8,953.7 310.8,925.9 312.4,948.4 314.5,928.3 316.6,949.1 318.2,922.5 319.5,944.1 321.3,922.0 323.0,949.1 324.8,919.4 326.6,942.3 328.2,920.1 330.0,939.5 331.5,915.4 332.7,943.0 334.2,920.7 335.4,942.5 336.8,920.9 338.0,943.0 339.8,918.8 341.6,949.6 343.1,919.6 344.6,953.0 346.5,920.3 348.1,951.5 349.4,928.2 351.4,947.7 353.1,922.6 355.0,950.8 356.8,916.6 358.8,948.9 360.8,910.8 362.8,947.8 364.8,910.7 366.8,952.9 368.3,913.3 369.5,958.1 371.4,909.8 372.7,950.3 374.0,919.4 375.4,953.9 376.7,904.7 378.8,957.6 380.4,918.1 381.9,945.7 383.5,919.4 385.4,955.6 386.7,915.2 387.9,956.5 389.5,924.3 391.2,945.3 393.1,922.7 395.1,944.7 397.1,922.5 398.7,949.3 401.0,968.6 402.1,950.7 403.9,914.4 405.8,944.9 407.8,914.4 409.6,948.3 411.2,920.7 412.8,946.5 414.2,929.4 415.5,948.0 417.2,926.7 418.5,945.7 420.1,924.1 421.6,943.4 423.1,924.3 424.8,944.4 426.6,922.5 428.2,941.4 429.7,923.4 431.7,940.8 433.5,927.1 435.5,946.5 437.5,937.0 439.5,949.7 441.3,939.2 443.1,949.3 444.3,937.8 445.8,950.5 447.1,937.1 448.9,947.8 450.7,928.5 452.0,948.3 454.0,925.5 455.9,955.8 457.4,921.1 459.3,953.9 461.2,931.2 463.0,960.2 464.3,929.5 465.6,960.5 466.9,930.8 469.0,953.1 470.7,923.2 472.1,953.1 473.6,923.3 474.9,958.2 476.7,930.3 478.8,950.9 480.1,931.2 482.0,955.1 483.8,930.1 485.2,951.8 486.6,934.9 488.0,963.5 490.1,932.2 491.5,955.1 493.5,938.6 495.0,960.2 496.9,938.0 498.6,954.6 500.0,936.1 501.4,957.0 503.3,936.9 504.9,951.3 506.8,935.9 508.7,955.2 510.6,936.5 512.6,951.7 514.0,936.6 515.5,948.4 516.9,932.1 518.4,956.2 519.7,935.8 521.5,951.7 523.2,932.8 524.4,953.9 526.5,925.4 528.2,957.2 529.5,925.6 531.4,954.3 533.0,935.0 534.5,953.7 536.3,935.2 538.4,956.5 540.2,932.7 541.7,955.3 543.2,932.2 545.1,958.3 546.7,932.0 548.5,961.4 550.1,937.7 551.8,956.3 553.4,935.1 554.8,956.5 556.8,938.9 558.4,959.1 560.2,940.4 562.3,958.4 563.8,943.6 565.0,953.4 567.1,939.3 569.1,955.7 570.5,933.0 572.5,955.0 573.7,942.2 575.1,958.1 577.1,941.1 578.7,967.6 580.4,936.5 582.0,963.7 584.1,936.9 585.7,958.1 587.4,936.9 588.8,962.0 590.7,939.1 592.2,957.4 593.7,943.7 595.6,956.7 596.8,942.5 598.4,961.2 599.7,948.7 601.5,957.1 603.2,947.9 605.3,959.1 606.8,942.6 608.3,963.8 609.8,937.8 611.8,957.3 613.7,939.7 615.5,954.1 617.3,936.1 618.5,955.4 620.5,940.8 621.8,962.3 623.3,936.8 625.2,958.9 626.8,942.9 628.5,961.6 630.5,942.1 632.5,964.6 634.6,943.3 636.6,962.6 638.5,944.8 639.8,961.2 641.8,943.5 643.9,965.7 645.4,940.3 647.5,960.8 648.8,943.7 650.6,964.7 652.1,949.4 653.7,967.1 655.2,951.8 657.2,963.8 658.6,951.1 660.1,967.2 661.7,952.9 663.0,966.6 664.5,951.1 666.4,967.9 667.9,951.2 669.1,969.2 670.7,952.6 672.7,981.1 674.2,950.6 675.7,972.7 677.0,948.2 678.9,972.1 680.5,936.4 682.2,964.0 683.7,941.0 685.1,969.3 687.1,937.4 688.8,975.8 690.6,945.8 692.4,974.0 693.7,949.1 695.2,983.7 697.3,953.1 698.7,986.4 700.5,945.0 702.3,973.4 704.1,952.3 705.3,973.6 707.0,948.1 708.4,969.4 709.9,954.3 711.7,976.9 713.0,964.1 714.4,976.3 716.1,961.9 717.9,984.9 720.0,949.4 721.5,984.4 723.1,956.6 724.7,995.7 726.7,955.7 728.6,981.9 730.3,948.3 731.6,989.0 733.3,952.6 734.6,996.8 736.0,958.8 737.6,986.5 739.6,960.0 741.1,988.5 743.1,948.8 745.4,990.1 747.7,952.3 750.1,983.9 751.8,954.0 753.4,988.4 755.2,957.7 756.7,989.3 758.6,958.6 760.7,993.6 762.8,952.9 764.3,992.0 766.3,946.5 768.4,991.3 769.9,947.6 771.4,980.5 773.9,950.8 776.4,981.7 779.0,949.6 781.5,986.6 783.2,945.8 785.5,978.9 787.0,938.8 788.5,975.3 789.9,930.6 792.3,979.5 794.4,946.1 796.9,977.3 798.7,938.0 800.8,995.2 802.7,933.6 804.8,994.4 807.2,943.0 809.3,999.3 811.8,939.5 814.0,1010.0 815.6,930.6 817.9,998.6 820.4,926.0 823.0,989.6 824.4,938.0 825.9,987.4 827.6,936.6 829.0,998.7 830.7,940.9 833.0,991.5 835.0,940.5 836.6,996.4 838.1,946.0 840.2,1000.2 841.8,956.6 843.4,1008.9 845.8,943.6 848.3,1006.1 850.0,948.5 851.8,1028.4 853.3,941.3 854.9,1010.4 857.2,945.3 859.8,1007.9 861.4,930.1 864.0,1021.1 866.3,959.4 868.6,1009.8 870.4,960.5 872.3,1004.5 874.7,953.9 877.0,1013.9 878.9,951.7 880.7,1016.2 883.0,1040.0 884.8,1034.0 887.1,937.0 889.4,1016.8 891.2,956.9 892.7,1027.4 894.4,937.2 897.0,1034.3 898.9,934.9 901.2,1015.2 903.7,958.0 905.9,1029.1 907.9,933.1 910.1,1010.9 912.2,944.7 914.2,1028.7 916.2,923.9 919.1,1000.1 921.4,941.6 924.2,1014.3 925.9,957.7 928.4,1009.9 930.7,968.1 933.4,1030.2 935.7,944.5 938.6,1036.9 941.4,949.3 943.6,875.0 946.3,946.7 948.2,1014.0 949.8,930.6 951.7,1034.0 953.5,1047.0 956.7,1033.3 959.7,953.8 962.1,1012.8 964.7,959.5 967.5,1004.7 969.3,934.6 971.2,1022.8 973.1,916.9 976.0,1013.4 978.6,916.4 980.9,1035.9 983.1,930.5 985.5,1007.9 988.1,882.9 990.0,1047.0 991.6,898.1 994.4,1033.9 996.2,908.7 998.8,1015.9 1000.9,919.1 1002.6,976.6 1004.7,918.3 1006.4,985.5 1008.9,877.3 1010.8,1008.5 1012.9,844.6 1015.1,1001.9 1016.8,911.0 1019.6,965.1 1021.4,885.1 1023.8,962.0 1025.7,855.1 1027.3,961.6 1030.1,866.2 1032.3,941.5 1034.9,895.7 1037.5,968.6 1039.6,844.9 1042.3,972.3 1044.6,829.3 1047.6,963.2 1049.7,828.5 1052.6,943.7 1054.6,853.5 1056.3,957.5 1058.4,825.6 1061.3,1001.0 1063.5,836.1 1065.4,1023.3 1068.2,802.2 1070.3,1031.1 1072.6,862.2 1075.4,992.1 1077.1,848.1 1079.2,953.8 1082.2,861.5 1084.2,951.9 1086.0,868.0 1088.2,967.2 1090.3,821.9 1092.5,959.1 1094.6,849.6 1096.2,933.4 1099.2,870.8 1101.5,956.5 1104.0,832.8 1106.5,978.6 1109.4,819.2 1111.2,976.8 1113.2,829.0 1115.7,934.6 1117.5,857.8 1119.2,942.4 1122.0,875.0 1123.9,935.5 1126.4,827.4 1128.2,959.9 1130.7,831.7 1133.5,952.4 1135.7,821.7 1138.6,951.8 1141.1,824.7 1143.9,944.1 1146.7,800.2 1148.6,927.9 1151.2,802.9 1153.4,912.4 1155.3,796.5 1157.7,910.9 1160.2,820.1 1162.2,897.5 1164.7,806.3 1166.4,926.1 1168.9,810.5 1170.7,945.2 1173.4,812.6 1176.1,910.1 1178.2,783.7 1180.2,899.7 1182.9,801.2 1185.6,869.1 1187.5,794.4 1190.1,897.1 1192.0,784.0 1194.7,883.8 1196.5,794.3 1198.9,899.2 1201.0,801.9 1203.2,918.4 1205.4,801.2 1208.3,905.8 1210.4,780.1 1212.9,890.5 1214.8,807.9 1216.7,877.0 1218.8,786.8 1221.4,866.3 1223.9,781.0 1225.9,867.6 1228.7,803.9 1231.4,888.2 1233.3,802.7 1235.2,868.8 1237.8,797.5 1239.5,878.6 1241.1,805.7 1243.0,861.2 1244.9,801.4 1247.4,868.7 1250.3,787.1" fill="none" stroke="#ff0000" stroke-width="2.7" stroke-linejoin="miter" stroke-miterlimit="2"/>
</g>
<g stroke="#111" fill="none">
<line x1="125.1" y1="39.6" x2="125.1" y2="1056.6" stroke-width="1.9" stroke="#1c1c1c"/>
<line x1="1249.2" y1="39.6" x2="1249.2" y2="1056.6" stroke-width="1.9" stroke="#3a3a3a"/>
<line x1="124.1" y1="40.4" x2="1250.2" y2="40.4" stroke-width="1.6" stroke="#000"/>
<line x1="124.1" y1="1055.7" x2="1250.2" y2="1055.7" stroke-width="1.8" stroke="#000"/>
<line x1="124.1" y1="304.0" x2="1250.2" y2="304.0" stroke-width="1.9" stroke="#000"/>
<line x1="124.1" y1="567.4" x2="1250.2" y2="567.4" stroke-width="1.4" stroke="#000"/>
<line x1="124.1" y1="830.8" x2="1250.2" y2="830.8" stroke-width="1.9" stroke="#000"/>
</g>
<g stroke="#1a1a1a" stroke-width="1.4">
<line x1="125.1" y1="77.8" x2="142.6" y2="77.8"/>
<line x1="125.1" y1="153.2" x2="142.6" y2="153.2"/>
<line x1="125.1" y1="228.6" x2="142.6" y2="228.6"/>
<line x1="125.1" y1="391.5" x2="142.6" y2="391.5"/>
<line x1="125.1" y1="479.4" x2="142.6" y2="479.4"/>
<line x1="125.1" y1="596.6" x2="142.6" y2="596.6"/>
<line x1="125.1" y1="714.0" x2="142.6" y2="714.0"/>
<line x1="125.1" y1="887.2" x2="142.6" y2="887.2"/>
<line x1="125.1" y1="943.5" x2="142.6" y2="943.5"/>
<line x1="125.1" y1="999.7" x2="142.6" y2="999.7"/>
<line x1="125.1" y1="115.5" x2="136.6" y2="115.5"/>
<line x1="125.1" y1="190.8" x2="136.6" y2="190.8"/>
<line x1="125.1" y1="266.2" x2="136.6" y2="266.2"/>
<line x1="125.1" y1="347.8" x2="136.6" y2="347.8"/>
<line x1="125.1" y1="435.1" x2="136.6" y2="435.1"/>
<line x1="125.1" y1="523.2" x2="136.6" y2="523.2"/>
<line x1="125.1" y1="655.3" x2="136.6" y2="655.3"/>
<line x1="125.1" y1="772.7" x2="136.6" y2="772.7"/>
<line x1="125.1" y1="1038.5" x2="125.1" y2="1055.7"/>
<line x1="162.6" y1="1045.0" x2="162.6" y2="1055.7"/>
<line x1="200.0" y1="1045.0" x2="200.0" y2="1055.7"/>
<line x1="237.5" y1="1045.0" x2="237.5" y2="1055.7"/>
<line x1="275.0" y1="1045.0" x2="275.0" y2="1055.7"/>
<line x1="312.5" y1="1038.5" x2="312.5" y2="1055.7"/>
<line x1="349.9" y1="1045.0" x2="349.9" y2="1055.7"/>
<line x1="387.4" y1="1045.0" x2="387.4" y2="1055.7"/>
<line x1="424.9" y1="1045.0" x2="424.9" y2="1055.7"/>
<line x1="462.3" y1="1045.0" x2="462.3" y2="1055.7"/>
<line x1="499.8" y1="1038.5" x2="499.8" y2="1055.7"/>
<line x1="537.3" y1="1045.0" x2="537.3" y2="1055.7"/>
<line x1="574.7" y1="1045.0" x2="574.7" y2="1055.7"/>
<line x1="612.2" y1="1045.0" x2="612.2" y2="1055.7"/>
<line x1="649.7" y1="1045.0" x2="649.7" y2="1055.7"/>
<line x1="687.2" y1="1038.5" x2="687.2" y2="1055.7"/>
<line x1="724.6" y1="1045.0" x2="724.6" y2="1055.7"/>
<line x1="762.1" y1="1045.0" x2="762.1" y2="1055.7"/>
<line x1="799.6" y1="1045.0" x2="799.6" y2="1055.7"/>
<line x1="837.0" y1="1045.0" x2="837.0" y2="1055.7"/>
<line x1="874.5" y1="1038.5" x2="874.5" y2="1055.7"/>
<line x1="912.0" y1="1045.0" x2="912.0" y2="1055.7"/>
<line x1="949.4" y1="1045.0" x2="949.4" y2="1055.7"/>
<line x1="986.9" y1="1045.0" x2="986.9" y2="1055.7"/>
<line x1="1024.4" y1="1045.0" x2="1024.4" y2="1055.7"/>
<line x1="1061.9" y1="1038.5" x2="1061.9" y2="1055.7"/>
<line x1="1099.3" y1="1045.0" x2="1099.3" y2="1055.7"/>
<line x1="1136.8" y1="1045.0" x2="1136.8" y2="1055.7"/>
<line x1="1174.3" y1="1045.0" x2="1174.3" y2="1055.7"/>
<line x1="1211.7" y1="1045.0" x2="1211.7" y2="1055.7"/>
<line x1="1249.2" y1="1038.5" x2="1249.2" y2="1055.7"/>
</g>
<text transform="translate(129.0,33.7) scale(1,1.05)" font-size="38.3" fill="#000" stroke="#000" stroke-width="0.6" text-anchor="start" >JPN: 95149</text>
<text transform="translate(1112.6,33.9) scale(1,1.02)" font-size="38.3" fill="#2b2b2b" stroke="#2b2b2b" stroke-width="0.5" text-anchor="end" >pellet C, Ne = 3.07·10</text>
<text transform="translate(1112.9,13.8) scale(1,1.04)" font-size="17.6" fill="#2b2b2b" stroke="#2b2b2b" stroke-width="0.3" text-anchor="start" >21</text>
<text transform="translate(1243.6,33.9) scale(1,1.02)" font-size="38.3" fill="#2b2b2b" stroke="#2b2b2b" stroke-width="0.5" text-anchor="end" >atoms</text>
<text transform="translate(112.2,91.3) scale(1,1.05)" font-size="38.3" fill="#000" stroke="#000" stroke-width="0.1" text-anchor="end" >300</text>
<text transform="translate(112.2,166.9) scale(1,1.05)" font-size="38.3" fill="#000" stroke="#000" stroke-width="0.1" text-anchor="end" >200</text>
<text transform="translate(112.2,242.6) scale(1,1.05)" font-size="38.3" fill="#000" stroke="#000" stroke-width="0.1" text-anchor="end" >100</text>
<text transform="translate(112.2,307.6) scale(1,1.05)" font-size="38.3" fill="#000" stroke="#000" stroke-width="0.1" text-anchor="end" >0</text>
<text transform="translate(112.2,402.4) scale(1,1.05)" font-size="38.3" fill="#000" stroke="#000" stroke-width="0.1" text-anchor="end" >2</text>
<text transform="translate(112.2,489.8) scale(1,1.05)" font-size="38.3" fill="#000" stroke="#000" stroke-width="0.1" text-anchor="end" >1</text>
<text transform="translate(112.2,566.6) scale(1,1.05)" font-size="38.3" fill="#000" stroke="#000" stroke-width="0.1" text-anchor="end" >0</text>
<text transform="translate(112.2,606.5) scale(1,1.05)" font-size="38.3" fill="#000" stroke="#000" stroke-width="0.1" text-anchor="end" >2</text>
<text transform="translate(112.2,724.1) scale(1,1.05)" font-size="38.3" fill="#000" stroke="#000" stroke-width="0.1" text-anchor="end" >1</text>
<text transform="translate(112.2,831.3) scale(1,1.05)" font-size="38.3" fill="#000" stroke="#000" stroke-width="0.1" text-anchor="end" >0</text>
<text transform="translate(112.2,896.8) scale(1,1.05)" font-size="38.3" fill="#000" stroke="#000" stroke-width="0.1" text-anchor="end" >1</text>
<text transform="translate(112.2,952.7) scale(1,1.05)" font-size="38.3" fill="#000" stroke="#000" stroke-width="0.1" text-anchor="end" >0</text>
<text transform="translate(112.2,1009.8) scale(1,1.05)" font-size="38.3" fill="#000" stroke="#000" stroke-width="0.1" text-anchor="end" >-1</text>
<text transform="translate(127.9,1100.0) scale(1,1.05)" font-size="38.3" fill="#000" stroke="#000" stroke-width="0.1" text-anchor="middle" >0</text>
<text transform="translate(314.5,1100.0) scale(1,1.05)" font-size="38.3" fill="#000" stroke="#000" stroke-width="0.1" text-anchor="middle" >0.5</text>
<text transform="translate(503.5,1100.0) scale(1,1.05)" font-size="38.3" fill="#000" stroke="#000" stroke-width="0.1" text-anchor="middle" >1</text>
<text transform="translate(688.1,1100.0) scale(1,1.05)" font-size="38.3" fill="#000" stroke="#000" stroke-width="0.1" text-anchor="middle" >1.5</text>
<text transform="translate(875.0,1100.0) scale(1,1.05)" font-size="38.3" fill="#000" stroke="#000" stroke-width="0.1" text-anchor="middle" >2</text>
<text transform="translate(1060.7,1100.0) scale(1,1.05)" font-size="38.3" fill="#000" stroke="#000" stroke-width="0.1" text-anchor="middle" >2.5</text>
<text transform="translate(1247.8,1100.0) scale(1,1.05)" font-size="38.3" fill="#000" stroke="#000" stroke-width="0.1" text-anchor="middle" >3</text>
<text transform="translate(708.0,1150.6) scale(1,1.025)" font-size="38.3" fill="#2b2b2b" stroke="#2b2b2b" stroke-width="0.4" text-anchor="middle" >24.030 s + Time (ms)</text>
<text transform="translate(53.8,414.4) rotate(-90) scale(1,1.0)" font-size="38.6" fill="#111" stroke="#111" stroke-width="0.4" text-anchor="middle">arb. unit</text>
<text transform="translate(53.8,692.4) rotate(-90) scale(1,1.0)" font-size="38.6" fill="#111" stroke="#111" stroke-width="0.4" text-anchor="middle">arb. unit</text>
<text transform="translate(53.8,931.5) rotate(-90) scale(1,1.0)" font-size="38.6" fill="#111" stroke="#111" stroke-width="0.4" text-anchor="middle">arb. unit</text>
<text transform="translate(27.7,241) rotate(-90) scale(1,1.03)" font-size="38.3" fill="#111" stroke="#111" stroke-width="0.4">T<tspan font-size="18" dy="7">e</tspan><tspan dy="-7" letter-spacing="0.7"> (eV)</tspan></text>
<text transform="translate(1270.0,1048.6) rotate(-90)" font-size="19.6" fill="#111" stroke="#111" stroke-width="0.3">CPS22.028-39c</text>
<text transform="translate(1185.8,91.4) scale(1,1.0)" font-size="39.4" fill="#2b2b2b" stroke="#2b2b2b" stroke-width="0.2" text-anchor="start" >(a)</text>
<text transform="translate(1185.8,350.8) scale(1,1.0)" font-size="39.4" fill="#2b2b2b" stroke="#2b2b2b" stroke-width="0.2" text-anchor="start" >(b)</text>
<text transform="translate(1185.8,609.3) scale(1,1.0)" font-size="39.4" fill="#2b2b2b" stroke="#2b2b2b" stroke-width="0.2" text-anchor="start" >(c)</text>
<text transform="translate(1185.8,997.7) scale(1,1.0)" font-size="39.4" fill="#2b2b2b" stroke="#2b2b2b" stroke-width="0.2" text-anchor="start" >(d)</text>
<text transform="translate(151.8,345.4) scale(1,1.02)" font-size="38.3" fill="#2b2b2b" stroke="#2b2b2b" stroke-width="0.4" text-anchor="start" >Fast Visible</text>
<text transform="translate(151.8,388.4) scale(1,1.03)" font-size="38.3" fill="#2b2b2b" stroke="#2b2b2b" stroke-width="0.4" text-anchor="start" >Camera (KL8)</text>
<text transform="translate(151.8,431.2) scale(1,1.03)" font-size="37.95" fill="#2b2b2b" stroke="#2b2b2b" stroke-width="0.4" text-anchor="start" >Sum intensity, Ne I</text>
<text transform="translate(169.8,630.7) scale(1,1.05)" font-size="38.3" fill="#2b2b2b" stroke="#2b2b2b" stroke-width="0.4" text-anchor="start" >VUV</text>
<text transform="translate(203.0,883.7) scale(1,1.04)" font-size="38.5" fill="#2b2b2b" stroke="#2b2b2b" stroke-width="0.4" text-anchor="start" >MHD T001 Coil</text>
<text transform="translate(252.0,249.7) scale(1,1.05)" font-size="38.3" fill="#ff0000" stroke="#ff0000" stroke-width="0.4" text-anchor="start" >ρ = 0.96</text>
<text transform="translate(426.7,174.2) scale(1,1.05)" font-size="38.3" fill="#0000ff" stroke="#0000ff" stroke-width="0.4" text-anchor="start" >ρ = 0.92</text>
<text transform="translate(680.2,124.5) scale(1,1.05)" font-size="38.3" fill="#ff00ff" stroke="#ff00ff" stroke-width="0.4" text-anchor="start" >ρ = 0.89</text>
<text transform="translate(888.0,94.7) scale(1,1.05)" font-size="38.3" fill="#00c800" stroke="#00c800" stroke-width="0.4" text-anchor="start" >ρ = 0.85</text>
</svg></body></html>
